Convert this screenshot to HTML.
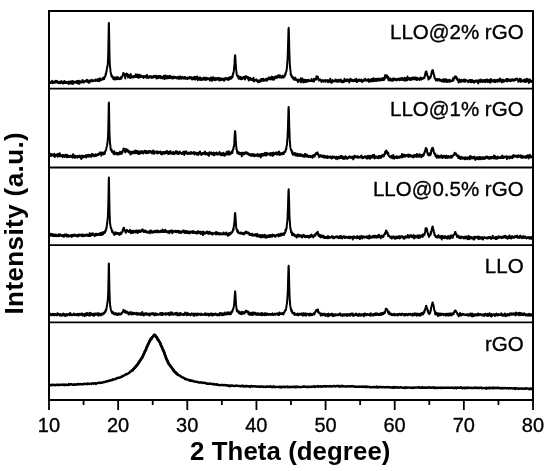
<!DOCTYPE html>
<html><head><meta charset="utf-8"><title>XRD patterns</title>
<style>html,body{margin:0;padding:0;background:#fff;overflow:hidden;}svg{display:block;}</style>
</head><body>
<svg width="550" height="471" viewBox="0 0 550 471">
<rect width="550" height="471" fill="#fff"/>
<g fill="none" stroke="#000" stroke-linejoin="round" stroke-linecap="round" stroke-width="2.00">
<path d="M50.00 82.1L50.25 83.1L50.50 83.0L50.75 81.7L51.00 81.8L51.25 81.7L51.50 82.5L51.75 82.0L52.00 82.6L52.25 80.7L52.50 83.3L52.75 82.0L53.00 82.6L53.25 82.0L53.50 81.8L53.75 82.5L54.00 82.8L54.25 82.0L54.50 82.0L54.75 82.7L55.00 81.5L55.25 81.0L55.50 82.5L55.75 81.7L56.00 80.8L56.25 81.6L56.50 81.9L56.75 81.3L57.00 81.1L57.25 82.3L57.50 82.9L57.75 82.1L58.00 81.7L58.25 82.5L58.50 82.8L58.75 82.0L59.00 82.7L59.25 83.1L59.50 82.1L59.75 81.7L60.00 82.6L60.25 82.5L60.50 83.1L60.75 81.4L61.00 81.8L61.25 81.7L61.50 81.1L61.75 82.5L62.00 82.8L62.25 81.8L62.50 83.4L62.75 83.0L63.00 82.9L63.25 82.7L63.50 83.1L63.75 81.4L64.00 82.9L64.25 82.9L64.50 81.1L64.75 82.7L65.00 82.3L65.25 83.0L65.50 82.1L65.75 82.5L66.00 82.7L66.25 81.8L66.50 82.9L66.75 82.4L67.00 82.9L67.25 82.1L67.50 83.3L67.75 83.0L68.00 82.4L68.25 83.0L68.50 83.5L68.75 83.9L69.00 81.4L69.25 83.2L69.50 82.9L69.75 82.5L70.00 81.8L70.25 83.5L70.50 81.6L70.75 83.0L71.00 83.5L71.25 81.3L71.50 82.3L71.75 81.5L72.00 82.6L72.25 83.6L72.50 83.9L72.75 81.0L73.00 81.9L73.25 82.9L73.50 83.5L73.75 82.6L74.00 81.7L74.25 82.5L74.50 82.2L74.75 82.1L75.00 81.7L75.25 82.5L75.50 82.4L75.75 82.1L76.00 82.0L76.25 81.2L76.50 81.7L76.75 83.0L77.00 81.9L77.25 81.0L77.50 83.0L77.75 82.4L78.00 83.6L78.25 82.0L78.50 81.6L78.75 80.8L79.00 82.9L79.25 83.8L79.50 81.3L79.75 81.4L80.00 82.3L80.25 81.2L80.50 81.6L80.75 81.5L81.00 81.9L81.25 82.6L81.50 81.7L81.75 82.4L82.00 81.4L82.25 81.9L82.50 80.0L82.75 80.5L83.00 82.2L83.25 81.1L83.50 82.0L83.75 81.9L84.00 82.5L84.25 82.1L84.50 82.2L84.75 81.4L85.00 80.9L85.25 80.9L85.50 81.0L85.75 80.5L86.00 81.0L86.25 81.3L86.50 81.5L86.75 81.1L87.00 79.8L87.25 81.2L87.50 81.4L87.75 82.0L88.00 81.6L88.25 80.7L88.50 80.6L88.75 82.7L89.00 81.7L89.25 82.5L89.50 82.7L89.75 80.5L90.00 81.3L90.25 81.4L90.50 81.4L90.75 81.4L91.00 81.1L91.25 81.1L91.50 79.8L91.75 80.7L92.00 80.3L92.25 80.9L92.50 80.4L92.75 81.2L93.00 81.3L93.25 80.9L93.50 80.9L93.75 80.7L94.00 80.2L94.25 80.4L94.50 80.1L94.75 80.8L95.00 80.4L95.25 80.8L95.50 79.4L95.75 81.0L96.00 79.7L96.25 79.7L96.50 80.1L96.75 79.8L97.00 80.4L97.25 79.7L97.50 79.3L97.75 79.4L98.00 81.0L98.25 80.0L98.50 79.1L98.75 79.9L99.00 78.7L99.25 81.2L99.50 78.6L99.75 80.1L100.00 80.1L100.25 78.6L100.50 79.8L100.75 80.3L101.00 79.8L101.25 79.6L101.50 80.0L101.75 79.3L102.00 79.4L102.25 78.9L102.50 79.4L102.75 78.1L103.00 79.2L103.25 78.1L103.50 77.5L103.75 78.4L104.00 79.1L104.25 78.3L104.50 76.9L104.75 77.5L105.00 76.3L105.25 76.1L105.50 75.7L105.75 73.3L106.00 74.4L106.25 72.5L106.50 71.6L106.75 69.7L107.00 68.1L107.25 66.8L107.50 66.1L107.75 64.3L108.00 59.3L108.25 53.3L108.50 40.1L108.75 25.8L108.88 23.0L109.00 26.2L109.25 41.8L109.50 55.7L109.75 63.5L110.00 66.5L110.25 68.5L110.50 71.2L110.75 72.5L111.00 73.3L111.25 75.1L111.50 76.3L111.75 75.2L112.00 76.5L112.25 77.1L112.50 77.3L112.75 77.8L113.00 77.0L113.25 78.0L113.50 79.2L113.75 78.4L114.00 77.5L114.25 78.5L114.50 79.1L114.75 78.5L115.00 77.8L115.25 79.5L115.50 77.4L115.75 78.8L116.00 78.4L116.25 77.5L116.50 79.3L116.75 78.7L117.00 77.6L117.25 78.9L117.50 78.1L117.75 77.0L118.00 77.9L118.25 78.6L118.50 78.9L118.75 78.6L119.00 78.5L119.25 78.8L119.50 78.3L119.75 79.3L120.00 78.5L120.25 78.5L120.50 78.5L120.75 77.2L121.00 77.3L121.25 78.8L121.50 77.7L121.75 77.1L122.00 77.3L122.25 76.3L122.50 76.4L122.75 75.1L123.00 75.0L123.25 72.9L123.50 73.5L123.67 73.3L123.75 73.3L124.00 73.5L124.25 73.9L124.50 74.9L124.75 74.4L125.00 75.9L125.25 78.4L125.50 74.8L125.75 76.0L126.00 75.3L126.25 75.4L126.50 73.6L126.75 73.8L127.00 74.4L127.13 74.3L127.25 74.4L127.50 74.1L127.75 75.1L128.00 77.4L128.25 74.9L128.50 75.0L128.75 75.8L129.00 75.9L129.25 76.6L129.50 76.1L129.75 75.5L130.00 76.2L130.25 78.1L130.50 77.1L130.75 74.0L131.00 76.0L131.25 75.5L131.50 76.6L131.75 76.1L132.00 77.6L132.25 76.9L132.50 76.9L132.75 76.4L133.00 76.2L133.25 76.5L133.50 77.2L133.75 76.6L134.00 76.0L134.25 77.2L134.50 76.4L134.75 76.2L135.00 75.7L135.25 75.8L135.50 75.8L135.75 74.2L136.00 77.1L136.25 76.7L136.50 76.2L136.75 77.1L137.00 76.7L137.25 76.6L137.50 74.5L137.75 76.2L138.00 76.8L138.25 77.6L138.50 77.8L138.75 77.5L139.00 75.5L139.25 74.8L139.50 76.9L139.75 76.5L140.00 77.2L140.25 76.4L140.50 76.6L140.75 75.3L141.00 76.8L141.25 76.2L141.50 76.8L141.75 76.9L142.00 76.4L142.25 76.8L142.50 76.5L142.75 77.1L143.00 76.9L143.25 76.1L143.50 76.1L143.75 77.9L144.00 76.5L144.25 77.3L144.50 76.9L144.75 76.2L145.00 76.1L145.25 76.7L145.50 76.8L145.75 77.1L146.00 75.7L146.25 76.2L146.50 76.6L146.75 77.9L147.00 74.9L147.25 77.0L147.50 76.3L147.75 77.0L148.00 76.4L148.25 77.0L148.50 77.9L148.75 77.0L149.00 77.1L149.25 77.0L149.50 76.2L149.75 77.2L150.00 76.6L150.25 76.2L150.50 76.8L150.75 76.6L151.00 77.4L151.25 76.8L151.50 76.4L151.75 77.9L152.00 77.6L152.25 77.8L152.50 77.3L152.75 76.8L153.00 76.6L153.25 76.7L153.50 77.6L153.75 77.0L154.00 75.8L154.25 76.9L154.50 75.9L154.75 77.1L155.00 76.0L155.25 76.0L155.50 77.0L155.75 76.9L156.00 75.7L156.25 77.5L156.50 78.6L156.75 75.9L157.00 78.4L157.25 76.5L157.50 76.6L157.75 76.9L158.00 76.0L158.25 78.0L158.50 77.4L158.75 76.5L159.00 76.9L159.25 75.9L159.50 76.8L159.75 77.8L160.00 75.8L160.25 76.8L160.50 77.2L160.75 77.9L161.00 78.1L161.25 76.8L161.50 76.6L161.75 77.5L162.00 76.9L162.25 76.9L162.50 78.0L162.75 78.4L163.00 77.4L163.25 77.1L163.50 77.6L163.75 75.8L164.00 77.2L164.25 76.4L164.50 79.0L164.75 77.8L165.00 77.4L165.25 77.1L165.50 75.4L165.75 77.8L166.00 78.5L166.25 76.7L166.50 77.8L166.75 77.8L167.00 76.1L167.25 78.0L167.50 78.3L167.75 77.5L168.00 77.3L168.25 77.9L168.50 76.2L168.75 77.4L169.00 78.2L169.25 76.4L169.50 78.1L169.75 77.1L170.00 75.8L170.25 77.3L170.50 76.7L170.75 77.7L171.00 76.6L171.25 78.2L171.50 76.9L171.75 77.7L172.00 77.0L172.25 77.2L172.50 78.4L172.75 77.6L173.00 77.2L173.25 76.6L173.50 78.4L173.75 78.1L174.00 77.3L174.25 77.7L174.50 76.8L174.75 76.8L175.00 77.0L175.25 77.8L175.50 77.8L175.75 77.0L176.00 78.2L176.25 78.2L176.50 77.8L176.75 78.4L177.00 77.4L177.25 77.6L177.50 78.0L177.75 77.7L178.00 78.3L178.25 76.8L178.50 78.8L178.75 77.1L179.00 77.6L179.25 76.7L179.50 78.2L179.75 78.7L180.00 78.6L180.25 78.4L180.50 76.6L180.75 77.2L181.00 77.5L181.25 77.1L181.50 78.7L181.75 78.0L182.00 77.8L182.25 78.2L182.50 77.1L182.75 77.2L183.00 77.2L183.25 78.3L183.50 78.2L183.75 78.3L184.00 78.7L184.25 76.9L184.50 77.5L184.75 78.1L185.00 76.9L185.25 77.6L185.50 78.7L185.75 78.8L186.00 78.8L186.25 78.0L186.50 77.9L186.75 78.8L187.00 77.8L187.25 78.3L187.50 79.0L187.75 77.8L188.00 77.6L188.25 78.1L188.50 78.5L188.75 78.5L189.00 78.2L189.25 78.5L189.50 76.9L189.75 77.5L190.00 78.3L190.25 77.5L190.50 77.2L190.75 77.3L191.00 77.5L191.25 78.1L191.50 77.4L191.75 78.4L192.00 79.5L192.25 78.1L192.50 79.2L192.75 78.5L193.00 77.4L193.25 78.1L193.50 77.5L193.75 78.9L194.00 77.4L194.25 79.3L194.50 78.8L194.75 76.8L195.00 78.9L195.25 79.5L195.50 77.8L195.75 79.1L196.00 77.0L196.25 78.6L196.50 77.2L196.75 78.8L197.00 77.1L197.25 76.5L197.50 78.7L197.75 80.2L198.00 78.0L198.25 79.1L198.50 78.6L198.75 78.2L199.00 79.0L199.25 79.7L199.50 77.6L199.75 78.9L200.00 78.8L200.25 77.5L200.50 79.8L200.75 80.0L201.00 77.9L201.25 79.9L201.50 78.6L201.75 78.5L202.00 79.7L202.25 78.8L202.50 78.9L202.75 79.8L203.00 79.6L203.25 79.3L203.50 77.6L203.75 77.5L204.00 79.5L204.25 78.0L204.50 78.8L204.75 77.9L205.00 78.6L205.25 77.8L205.50 80.0L205.75 78.0L206.00 78.7L206.25 78.6L206.50 79.7L206.75 77.7L207.00 78.8L207.25 78.7L207.50 79.2L207.75 79.2L208.00 78.5L208.25 79.0L208.50 78.6L208.75 79.2L209.00 78.8L209.25 78.4L209.50 78.9L209.75 79.2L210.00 80.6L210.25 78.6L210.50 79.2L210.75 80.0L211.00 77.4L211.25 77.7L211.50 78.1L211.75 78.9L212.00 80.8L212.25 79.3L212.50 79.9L212.75 78.8L213.00 77.2L213.25 77.3L213.50 79.8L213.75 79.2L214.00 78.1L214.25 79.9L214.50 77.9L214.75 79.9L215.00 80.2L215.25 78.5L215.50 78.3L215.75 79.8L216.00 78.3L216.25 79.8L216.50 78.3L216.75 79.8L217.00 79.2L217.25 78.8L217.50 78.5L217.75 79.3L218.00 77.7L218.25 78.9L218.50 78.8L218.75 79.6L219.00 78.2L219.25 80.4L219.50 78.8L219.75 78.2L220.00 80.1L220.25 80.3L220.50 78.9L220.75 78.4L221.00 79.0L221.25 78.5L221.50 78.8L221.75 80.1L222.00 79.3L222.25 79.1L222.50 79.2L222.75 78.9L223.00 79.6L223.25 79.6L223.50 78.6L223.75 79.0L224.00 80.7L224.25 79.2L224.50 78.7L224.75 80.4L225.00 78.8L225.25 78.0L225.50 79.3L225.75 78.1L226.00 78.4L226.25 79.0L226.50 78.7L226.75 78.2L227.00 78.3L227.25 78.2L227.50 79.5L227.75 78.1L228.00 78.2L228.25 80.1L228.50 78.1L228.75 79.6L229.00 79.5L229.25 78.3L229.50 77.3L229.75 78.6L230.00 78.7L230.25 78.8L230.50 78.0L230.75 78.8L231.00 78.7L231.25 76.7L231.50 78.4L231.75 77.2L232.00 76.3L232.25 76.1L232.50 77.3L232.75 76.0L233.00 73.2L233.25 73.8L233.50 72.6L233.75 71.2L234.00 69.1L234.25 65.8L234.50 63.9L234.75 58.3L235.00 55.6L235.13 55.2L235.25 55.8L235.50 60.2L235.75 64.7L236.00 67.8L236.25 70.4L236.50 72.7L236.75 75.0L237.00 75.2L237.25 75.9L237.50 76.0L237.75 76.4L238.00 77.0L238.25 75.7L238.50 78.5L238.75 76.9L239.00 77.2L239.25 78.8L239.50 78.1L239.75 78.0L240.00 77.6L240.25 76.9L240.50 78.3L240.75 79.1L241.00 77.6L241.25 79.3L241.50 77.5L241.75 77.8L242.00 78.8L242.25 78.4L242.50 78.9L242.75 77.9L243.00 77.7L243.25 77.0L243.50 77.5L243.75 77.5L244.00 77.2L244.25 78.4L244.50 77.6L244.75 76.4L245.00 79.5L245.25 76.8L245.50 76.2L245.75 77.8L246.00 77.5L246.25 76.5L246.40 76.5L246.50 76.6L246.75 77.6L247.00 76.7L247.25 76.7L247.50 77.6L247.75 78.8L248.00 77.1L248.25 78.1L248.50 77.6L248.75 80.4L249.00 80.3L249.25 79.7L249.50 79.0L249.75 79.7L250.00 77.7L250.25 79.5L250.50 78.3L250.75 78.4L251.00 78.9L251.25 79.2L251.50 80.0L251.75 80.1L252.00 79.8L252.25 78.9L252.50 80.2L252.75 79.6L253.00 80.6L253.25 79.1L253.50 77.8L253.75 79.5L254.00 81.5L254.25 80.3L254.50 79.8L254.75 80.7L255.00 80.4L255.25 80.4L255.50 79.7L255.75 80.2L256.00 80.3L256.25 79.7L256.50 79.4L256.75 80.4L257.00 81.0L257.25 80.8L257.50 80.7L257.75 80.8L258.00 82.3L258.25 80.6L258.50 81.2L258.75 82.0L259.00 80.6L259.25 80.8L259.50 81.4L259.75 81.9L260.00 80.9L260.25 80.9L260.50 80.6L260.75 79.6L261.00 81.3L261.25 80.2L261.50 79.0L261.75 80.2L262.00 78.9L262.25 79.4L262.50 80.1L262.75 79.4L263.00 80.8L263.25 78.8L263.50 80.1L263.75 80.3L264.00 80.9L264.25 80.4L264.50 79.8L264.75 79.7L265.00 79.5L265.25 80.4L265.50 79.0L265.75 79.8L266.00 79.3L266.25 79.5L266.50 79.0L266.75 80.8L267.00 78.6L267.25 79.3L267.50 79.2L267.75 79.4L268.00 79.2L268.25 79.2L268.50 79.5L268.75 77.6L269.00 78.7L269.25 77.7L269.50 78.7L269.75 77.6L270.00 77.7L270.25 78.4L270.50 79.4L270.75 78.7L271.00 78.5L271.25 79.3L271.50 77.5L271.75 76.6L272.00 77.8L272.25 77.8L272.50 78.9L272.75 79.5L273.00 76.9L273.25 79.7L273.50 79.0L273.75 78.4L274.00 78.0L274.25 79.5L274.50 77.6L274.75 77.2L275.00 77.6L275.25 76.4L275.50 77.7L275.75 77.3L276.00 77.5L276.25 77.5L276.50 76.4L276.75 78.1L277.00 76.3L277.25 77.7L277.50 75.8L277.75 77.2L278.00 76.3L278.25 76.9L278.50 76.4L278.75 75.3L279.00 76.1L279.25 77.0L279.50 77.5L279.75 75.9L280.00 75.4L280.25 76.4L280.50 76.9L280.75 76.6L281.00 76.4L281.25 77.7L281.50 77.7L281.75 77.6L282.00 76.3L282.25 77.0L282.50 76.7L282.75 75.7L283.00 77.4L283.25 76.7L283.50 76.1L283.75 77.4L284.00 76.7L284.25 76.6L284.50 76.6L284.75 75.9L285.00 74.0L285.25 74.2L285.50 74.6L285.75 72.6L286.00 72.2L286.25 71.4L286.50 70.8L286.75 69.0L287.00 66.7L287.25 63.2L287.50 60.4L287.75 54.9L288.00 46.9L288.25 38.5L288.50 29.3L288.65 27.8L288.75 29.0L289.00 37.4L289.25 48.9L289.50 56.0L289.75 63.3L290.00 66.6L290.25 69.2L290.50 70.4L290.75 74.7L291.00 74.1L291.25 75.2L291.50 76.5L291.75 76.2L292.00 77.2L292.25 76.2L292.50 77.8L292.75 77.7L293.00 78.6L293.25 78.7L293.50 77.7L293.75 77.6L294.00 78.4L294.25 79.8L294.50 79.7L294.75 79.8L295.00 78.1L295.25 77.7L295.50 79.4L295.75 79.7L296.00 79.5L296.25 80.3L296.50 80.0L296.75 79.3L297.00 79.6L297.25 80.4L297.50 80.5L297.75 80.4L298.00 82.2L298.25 80.3L298.50 80.6L298.75 79.8L299.00 80.3L299.25 81.0L299.50 81.0L299.75 80.5L300.00 80.9L300.25 80.7L300.50 79.2L300.75 78.2L301.00 82.4L301.25 81.3L301.50 80.6L301.75 79.3L302.00 79.7L302.25 81.7L302.50 78.6L302.75 80.4L303.00 81.3L303.25 80.8L303.50 81.3L303.75 80.6L304.00 82.5L304.25 79.9L304.50 79.7L304.75 80.9L305.00 81.8L305.25 80.7L305.50 81.5L305.75 80.3L306.00 79.8L306.25 81.8L306.50 81.9L306.75 81.9L307.00 80.4L307.25 79.9L307.50 79.9L307.75 80.6L308.00 81.2L308.25 81.1L308.50 79.7L308.75 80.9L309.00 80.7L309.25 80.8L309.50 80.7L309.75 80.6L310.00 81.2L310.25 80.8L310.50 80.9L310.75 80.2L311.00 81.0L311.25 80.6L311.50 79.1L311.75 81.0L312.00 80.4L312.25 81.3L312.50 80.5L312.75 80.5L313.00 80.7L313.25 80.5L313.50 80.1L313.75 79.0L314.00 81.6L314.25 78.9L314.50 79.6L314.75 80.1L315.00 79.7L315.25 79.5L315.50 79.2L315.75 79.2L316.00 78.0L316.25 79.5L316.50 76.2L316.75 76.7L317.00 76.6L317.00 76.6L317.25 76.7L317.50 78.1L317.75 76.8L318.00 77.3L318.25 78.8L318.50 79.1L318.75 80.6L319.00 80.2L319.25 79.9L319.50 79.7L319.75 80.3L320.00 80.2L320.25 79.4L320.50 80.5L320.75 80.5L321.00 80.5L321.25 80.4L321.50 82.0L321.75 81.3L322.00 81.5L322.25 80.4L322.50 80.1L322.75 80.7L323.00 81.1L323.25 80.7L323.50 80.8L323.75 81.7L324.00 81.2L324.25 80.2L324.50 80.7L324.75 80.5L325.00 81.1L325.25 80.1L325.50 80.9L325.75 81.6L326.00 81.1L326.25 80.4L326.50 80.6L326.75 81.2L327.00 81.4L327.25 81.7L327.50 81.0L327.75 80.1L328.00 82.2L328.25 81.3L328.50 81.4L328.75 81.3L329.00 80.3L329.25 80.9L329.50 81.3L329.75 81.9L330.00 81.2L330.25 78.8L330.50 81.0L330.75 81.4L331.00 82.1L331.25 81.7L331.50 83.0L331.75 82.2L332.00 82.1L332.25 81.8L332.50 80.1L332.75 81.7L333.00 81.5L333.25 80.7L333.50 81.5L333.75 81.4L334.00 80.7L334.25 81.0L334.50 80.8L334.75 81.2L335.00 80.7L335.25 81.4L335.50 79.6L335.75 80.8L336.00 79.7L336.25 80.6L336.50 81.4L336.75 81.0L337.00 80.9L337.25 81.0L337.50 82.1L337.75 80.1L338.00 81.6L338.25 79.8L338.50 80.6L338.75 81.1L339.00 80.3L339.25 81.1L339.50 81.5L339.75 80.0L340.00 80.8L340.25 80.6L340.50 79.4L340.75 80.7L341.00 80.3L341.25 81.9L341.50 80.2L341.75 82.1L342.00 80.4L342.25 82.3L342.50 81.2L342.75 81.2L343.00 81.4L343.25 81.5L343.50 81.9L343.75 82.1L344.00 80.5L344.25 79.8L344.50 78.8L344.75 80.5L345.00 81.3L345.25 81.0L345.50 80.8L345.75 80.5L346.00 80.3L346.25 80.5L346.50 81.0L346.75 79.4L347.00 81.3L347.25 79.6L347.50 80.6L347.75 80.2L348.00 80.4L348.25 79.9L348.50 79.8L348.75 80.5L349.00 79.8L349.25 82.5L349.50 80.3L349.75 80.2L350.00 80.2L350.25 79.8L350.50 78.8L350.75 80.4L351.00 80.9L351.25 79.5L351.50 80.6L351.75 79.7L352.00 80.6L352.25 80.9L352.50 81.0L352.75 80.9L353.00 80.1L353.25 81.2L353.50 80.2L353.75 80.8L354.00 81.1L354.25 80.3L354.50 79.6L354.75 81.0L355.00 79.7L355.25 79.9L355.50 79.7L355.75 81.2L356.00 80.4L356.25 78.8L356.50 81.1L356.75 82.1L357.00 81.9L357.25 80.1L357.50 80.5L357.75 80.9L358.00 81.2L358.25 80.5L358.50 79.7L358.75 81.0L359.00 80.9L359.25 79.5L359.50 80.2L359.75 80.6L360.00 80.4L360.25 80.8L360.50 81.0L360.75 80.8L361.00 80.3L361.25 79.4L361.50 80.9L361.75 81.5L362.00 81.9L362.25 80.4L362.50 80.4L362.75 81.5L363.00 81.5L363.25 80.6L363.50 80.9L363.75 79.8L364.00 80.8L364.25 79.7L364.50 80.2L364.75 80.3L365.00 80.0L365.25 78.8L365.50 79.7L365.75 80.6L366.00 80.3L366.25 80.0L366.50 80.6L366.75 80.8L367.00 80.9L367.25 79.7L367.50 80.3L367.75 80.0L368.00 79.6L368.25 79.1L368.50 80.2L368.75 79.6L369.00 81.9L369.25 80.2L369.50 80.1L369.75 79.9L370.00 81.6L370.25 79.5L370.50 80.1L370.75 79.6L371.00 80.1L371.25 80.2L371.50 81.0L371.75 79.1L372.00 80.2L372.25 81.4L372.50 79.8L372.75 80.0L373.00 79.5L373.25 78.2L373.50 80.1L373.75 81.0L374.00 79.8L374.25 78.7L374.50 80.3L374.75 80.2L375.00 80.9L375.25 80.8L375.50 79.9L375.75 80.4L376.00 78.7L376.25 80.9L376.50 80.2L376.75 80.9L377.00 80.8L377.25 79.8L377.50 79.9L377.75 79.4L378.00 78.5L378.25 79.9L378.50 80.1L378.75 79.2L379.00 80.5L379.25 80.0L379.50 80.3L379.75 79.4L380.00 78.6L380.25 80.5L380.50 80.3L380.75 79.8L381.00 79.5L381.25 79.6L381.50 79.7L381.75 79.4L382.00 78.2L382.25 80.3L382.50 78.5L382.75 79.3L383.00 79.3L383.25 79.6L383.50 78.1L383.75 80.1L384.00 79.5L384.25 79.3L384.50 79.4L384.75 77.5L385.00 75.3L385.25 77.5L385.50 77.7L385.75 77.1L386.00 75.4L386.25 75.5L386.42 75.5L386.50 75.5L386.75 75.2L387.00 75.6L387.25 77.7L387.50 76.5L387.75 78.7L388.00 77.9L388.25 77.0L388.50 80.2L388.75 78.1L389.00 79.5L389.25 80.5L389.50 78.9L389.75 78.5L390.00 80.2L390.25 79.5L390.50 78.6L390.75 78.8L391.00 79.3L391.25 80.3L391.50 79.4L391.75 80.1L392.00 80.9L392.25 80.6L392.50 80.8L392.75 80.6L393.00 78.5L393.25 80.6L393.50 79.9L393.75 79.6L394.00 78.9L394.25 78.5L394.50 78.9L394.75 79.7L395.00 78.8L395.25 79.1L395.50 79.2L395.75 80.2L396.00 79.4L396.25 79.5L396.50 80.6L396.75 79.4L397.00 80.0L397.25 78.8L397.50 79.8L397.75 79.6L398.00 79.6L398.25 79.1L398.50 78.7L398.75 79.2L399.00 79.1L399.25 80.2L399.50 80.1L399.75 78.5L400.00 79.8L400.25 79.0L400.50 79.7L400.75 79.0L401.00 78.2L401.25 80.1L401.50 79.6L401.75 78.3L402.00 77.8L402.25 78.8L402.50 78.3L402.75 78.9L403.00 79.6L403.25 80.3L403.50 78.9L403.75 80.1L404.00 80.0L404.25 78.8L404.50 77.8L404.75 79.7L405.00 79.5L405.25 80.8L405.50 80.1L405.75 79.6L406.00 80.2L406.25 78.1L406.50 79.1L406.75 78.7L407.00 80.2L407.25 79.3L407.50 76.5L407.75 79.9L408.00 78.1L408.25 79.4L408.50 78.4L408.75 78.9L409.00 79.2L409.25 78.9L409.50 78.0L409.75 79.7L410.00 79.0L410.25 78.6L410.50 79.1L410.75 78.2L411.00 80.0L411.25 78.7L411.50 78.8L411.75 78.8L412.00 77.8L412.25 77.6L412.50 78.6L412.75 78.7L413.00 79.4L413.25 78.8L413.50 77.6L413.75 78.9L414.00 79.1L414.25 79.3L414.50 78.8L414.75 77.6L415.00 79.4L415.25 78.0L415.50 79.0L415.75 77.4L416.00 79.2L416.25 78.0L416.50 79.5L416.75 80.0L417.00 79.5L417.25 77.8L417.50 78.0L417.75 78.1L418.00 79.2L418.25 79.0L418.50 78.9L418.75 79.0L419.00 79.2L419.25 79.2L419.50 80.0L419.75 78.7L420.00 78.9L420.25 77.4L420.50 77.8L420.75 78.2L421.00 77.9L421.25 78.9L421.50 79.5L421.75 78.4L422.00 78.3L422.25 78.2L422.50 78.7L422.75 78.1L423.00 78.7L423.25 78.5L423.50 78.3L423.75 78.4L424.00 77.5L424.25 77.1L424.50 77.8L424.75 75.7L425.00 75.5L425.25 74.0L425.50 72.7L425.75 71.9L426.00 71.7L426.17 71.5L426.25 71.6L426.50 71.6L426.75 73.6L427.00 73.5L427.25 75.4L427.50 75.6L427.75 76.8L428.00 76.3L428.25 77.4L428.50 79.6L428.75 78.5L429.00 78.7L429.25 78.2L429.50 78.7L429.75 77.1L430.00 77.2L430.25 77.9L430.50 77.7L430.75 76.3L431.00 75.7L431.25 74.7L431.50 73.8L431.75 71.9L432.00 70.7L432.25 70.7L432.50 70.3L432.60 70.3L432.75 70.4L433.00 70.3L433.25 72.3L433.50 72.9L433.75 74.4L434.00 74.8L434.25 75.9L434.50 77.6L434.75 78.1L435.00 78.0L435.25 79.0L435.50 79.1L435.75 79.3L436.00 80.5L436.25 79.2L436.50 79.9L436.75 80.0L437.00 79.6L437.25 79.0L437.50 80.4L437.75 80.2L438.00 80.0L438.25 80.1L438.50 80.1L438.75 79.5L439.00 80.4L439.25 78.9L439.50 80.2L439.75 79.2L440.00 80.1L440.25 80.9L440.50 80.2L440.75 80.1L441.00 80.8L441.25 80.3L441.50 80.2L441.75 80.2L442.00 81.6L442.25 81.0L442.50 80.9L442.75 79.6L443.00 81.0L443.25 79.6L443.50 80.9L443.75 79.7L444.00 82.0L444.25 79.3L444.50 81.5L444.75 81.2L445.00 79.2L445.25 80.4L445.50 81.6L445.75 81.4L446.00 79.3L446.25 80.2L446.50 79.7L446.75 79.8L447.00 80.1L447.25 82.0L447.50 80.7L447.75 80.4L448.00 80.3L448.25 81.1L448.50 81.1L448.75 79.9L449.00 81.7L449.25 79.7L449.50 80.3L449.75 80.9L450.00 81.8L450.25 80.2L450.50 80.7L450.75 81.4L451.00 80.9L451.25 81.3L451.50 81.1L451.75 80.5L452.00 80.7L452.25 80.8L452.50 80.0L452.75 81.1L453.00 78.2L453.25 78.8L453.50 80.2L453.75 79.1L454.00 77.9L454.25 78.2L454.50 78.2L454.75 76.6L455.00 76.7L455.25 76.6L455.28 76.6L455.50 76.7L455.75 77.7L456.00 76.5L456.25 77.5L456.50 78.8L456.75 77.8L457.00 77.9L457.25 79.9L457.50 79.7L457.75 79.8L458.00 80.2L458.25 79.5L458.50 82.5L458.75 79.7L459.00 80.1L459.25 79.5L459.50 80.3L459.75 81.7L460.00 80.6L460.25 81.1L460.50 80.3L460.75 82.1L461.00 80.8L461.25 79.8L461.50 81.3L461.75 80.5L462.00 81.2L462.25 80.9L462.50 81.0L462.75 80.9L463.00 80.1L463.25 79.7L463.50 81.6L463.75 80.7L464.00 81.1L464.25 80.5L464.50 79.4L464.75 79.9L465.00 81.9L465.25 80.3L465.50 80.6L465.75 79.8L466.00 80.5L466.25 80.6L466.50 80.7L466.75 80.9L467.00 80.5L467.25 80.5L467.50 80.9L467.75 81.2L468.00 80.8L468.25 82.3L468.50 81.1L468.75 81.1L469.00 80.5L469.25 81.7L469.50 80.2L469.75 79.8L470.00 80.2L470.25 81.4L470.50 80.1L470.75 82.0L471.00 81.0L471.25 79.9L471.50 80.8L471.75 82.3L472.00 80.4L472.25 80.0L472.50 81.4L472.75 82.0L473.00 81.8L473.25 80.8L473.50 81.2L473.75 81.3L474.00 81.9L474.25 82.7L474.50 81.0L474.75 82.0L475.00 80.8L475.25 81.5L475.50 80.4L475.75 80.5L476.00 81.4L476.25 80.4L476.50 81.7L476.75 80.7L477.00 81.1L477.25 81.0L477.50 80.8L477.75 81.2L478.00 81.9L478.25 83.4L478.50 80.2L478.75 81.3L479.00 81.0L479.25 80.4L479.50 81.3L479.75 80.5L480.00 81.1L480.25 82.1L480.50 79.6L480.75 81.3L481.00 81.4L481.25 80.4L481.50 81.5L481.75 81.4L482.00 80.8L482.25 82.0L482.50 80.1L482.75 81.5L483.00 80.9L483.25 80.3L483.50 80.9L483.75 80.8L484.00 81.7L484.25 79.9L484.50 80.9L484.75 80.7L485.00 82.2L485.25 80.2L485.50 81.8L485.75 79.7L486.00 81.2L486.25 80.9L486.50 81.3L486.75 80.4L487.00 79.5L487.25 79.8L487.50 81.9L487.75 81.1L488.00 80.3L488.25 81.6L488.50 80.4L488.75 80.4L489.00 80.0L489.25 81.8L489.50 82.4L489.75 80.2L490.00 81.1L490.25 81.6L490.50 82.5L490.75 79.1L491.00 81.0L491.25 81.3L491.50 79.7L491.75 81.2L492.00 81.0L492.25 81.4L492.50 80.4L492.75 81.1L493.00 80.4L493.25 81.3L493.50 80.9L493.75 80.5L494.00 79.7L494.25 82.0L494.50 81.6L494.75 81.4L495.00 80.3L495.25 80.5L495.50 82.0L495.75 81.3L496.00 80.1L496.25 80.8L496.50 80.8L496.75 80.6L497.00 80.0L497.25 81.7L497.50 81.2L497.75 80.6L498.00 79.5L498.25 80.3L498.50 80.7L498.75 81.3L499.00 80.4L499.25 81.5L499.50 80.8L499.75 80.1L500.00 78.6L500.25 79.8L500.50 79.5L500.75 80.5L501.00 80.9L501.25 81.7L501.50 80.6L501.75 79.8L502.00 82.4L502.25 80.8L502.50 80.4L502.75 80.4L503.00 79.6L503.25 81.1L503.50 80.9L503.75 81.8L504.00 81.4L504.25 81.2L504.50 81.5L504.75 80.4L505.00 80.2L505.25 80.5L505.50 79.6L505.75 80.4L506.00 80.3L506.25 81.0L506.50 80.5L506.75 79.1L507.00 80.5L507.25 81.6L507.50 79.1L507.75 79.9L508.00 80.5L508.25 79.5L508.50 80.1L508.75 80.5L509.00 79.5L509.25 80.7L509.50 80.8L509.75 79.5L510.00 80.5L510.25 81.2L510.50 80.2L510.75 80.6L511.00 80.7L511.25 80.0L511.50 80.9L511.75 80.4L512.00 79.3L512.25 80.4L512.50 80.6L512.75 80.5L513.00 79.4L513.25 80.2L513.50 80.8L513.75 79.9L514.00 80.6L514.25 80.6L514.50 79.5L514.75 80.0L515.00 79.3L515.25 80.2L515.50 79.3L515.75 78.9L516.00 79.3L516.25 79.3L516.50 79.7L516.75 79.8L517.00 78.6L517.25 79.0L517.50 79.8L517.75 80.0L518.00 79.7L518.25 81.7L518.50 80.6L518.75 79.8L519.00 80.4L519.25 80.9L519.50 80.3L519.75 78.7L520.00 80.2L520.25 80.2L520.50 81.8L520.75 78.9L521.00 81.5L521.25 80.2L521.50 81.1L521.75 80.2L522.00 80.6L522.25 81.4L522.50 80.6L522.75 81.3L523.00 80.5L523.25 80.3L523.50 80.4L523.75 80.2L524.00 80.5L524.25 81.7L524.50 79.8L524.75 79.4L525.00 80.7L525.25 82.0L525.50 81.5L525.75 81.7L526.00 81.7L526.25 80.2L526.50 80.9L526.75 78.8L527.00 80.4L527.25 81.3L527.50 79.7L527.75 79.3L528.00 79.9L528.25 81.1L528.50 81.8L528.75 82.9L529.00 82.0L529.25 79.8L529.50 79.3L529.75 81.1L530.00 81.8L530.25 79.8L530.50 80.7L530.75 80.7L531.00 81.1L531.25 81.0L531.50 81.5L531.75 81.9L532.00 81.2L532.25 81.8"/>
<path d="M50.00 156.0L50.25 153.8L50.50 153.8L50.75 155.0L51.00 156.0L51.25 154.8L51.50 155.5L51.75 154.5L52.00 155.4L52.25 154.3L52.50 155.3L52.75 155.1L53.00 155.1L53.25 155.9L53.50 155.7L53.75 154.4L54.00 155.6L54.25 153.7L54.50 155.7L54.75 157.0L55.00 155.4L55.25 155.4L55.50 155.1L55.75 155.7L56.00 154.8L56.25 155.6L56.50 154.9L56.75 154.9L57.00 155.3L57.25 155.2L57.50 153.9L57.75 156.8L58.00 155.4L58.25 154.0L58.50 156.1L58.75 155.3L59.00 155.5L59.25 155.9L59.50 154.8L59.75 153.2L60.00 155.4L60.25 155.7L60.50 156.3L60.75 155.0L61.00 155.4L61.25 155.9L61.50 155.4L61.75 155.4L62.00 155.8L62.25 154.9L62.50 156.9L62.75 155.0L63.00 155.8L63.25 155.5L63.50 155.2L63.75 156.2L64.00 156.6L64.25 156.9L64.50 156.3L64.75 155.6L65.00 156.6L65.25 154.8L65.50 156.0L65.75 156.4L66.00 156.4L66.25 155.2L66.50 154.9L66.75 157.3L67.00 155.7L67.25 154.9L67.50 155.2L67.75 156.2L68.00 157.0L68.25 156.2L68.50 157.1L68.75 156.4L69.00 156.6L69.25 157.0L69.50 156.0L69.75 156.5L70.00 156.0L70.25 155.9L70.50 156.9L70.75 155.8L71.00 156.4L71.25 155.8L71.50 156.3L71.75 156.0L72.00 157.3L72.25 156.5L72.50 156.5L72.75 157.7L73.00 154.3L73.25 155.7L73.50 154.5L73.75 156.5L74.00 156.9L74.25 157.0L74.50 156.8L74.75 155.9L75.00 157.9L75.25 156.8L75.50 156.4L75.75 155.8L76.00 157.0L76.25 156.3L76.50 156.3L76.75 156.9L77.00 156.9L77.25 156.1L77.50 157.7L77.75 156.0L78.00 155.9L78.25 157.0L78.50 156.9L78.75 156.9L79.00 156.5L79.25 156.9L79.50 156.4L79.75 155.6L80.00 157.4L80.25 156.1L80.50 156.7L80.75 157.5L81.00 157.0L81.25 159.0L81.50 155.8L81.75 156.3L82.00 156.9L82.25 157.8L82.50 156.6L82.75 155.6L83.00 157.5L83.25 155.9L83.50 156.5L83.75 157.2L84.00 156.0L84.25 156.2L84.50 156.8L84.75 156.3L85.00 156.6L85.25 155.7L85.50 156.2L85.75 155.5L86.00 155.1L86.25 157.6L86.50 156.5L86.75 156.9L87.00 155.4L87.25 156.1L87.50 155.9L87.75 155.0L88.00 156.4L88.25 155.4L88.50 155.8L88.75 154.8L89.00 156.6L89.25 156.4L89.50 156.1L89.75 155.1L90.00 155.3L90.25 156.6L90.50 155.5L90.75 155.8L91.00 155.7L91.25 154.7L91.50 156.7L91.75 154.0L92.00 155.6L92.25 155.3L92.50 154.2L92.75 155.6L93.00 155.7L93.25 155.3L93.50 154.6L93.75 155.5L94.00 155.9L94.25 155.2L94.50 156.3L94.75 155.6L95.00 155.5L95.25 155.9L95.50 154.3L95.75 154.4L96.00 155.1L96.25 155.1L96.50 155.8L96.75 155.5L97.00 154.7L97.25 154.7L97.50 154.3L97.75 154.2L98.00 154.1L98.25 155.0L98.50 154.0L98.75 154.0L99.00 154.3L99.25 153.8L99.50 153.9L99.75 152.4L100.00 154.3L100.25 153.8L100.50 154.1L100.75 154.2L101.00 152.6L101.25 155.7L101.50 154.0L101.75 154.0L102.00 152.5L102.25 154.2L102.50 154.0L102.75 153.4L103.00 153.7L103.25 154.4L103.50 153.1L103.75 152.5L104.00 154.0L104.25 153.0L104.50 152.4L104.75 154.0L105.00 152.0L105.25 151.4L105.50 151.2L105.75 150.1L106.00 149.9L106.25 149.0L106.50 147.3L106.75 146.4L107.00 145.4L107.25 143.8L107.50 142.1L107.75 140.0L108.00 136.2L108.25 130.2L108.50 118.3L108.75 105.2L108.88 102.6L109.00 105.6L109.25 120.5L109.50 134.9L109.75 138.1L110.00 144.4L110.25 144.2L110.50 147.4L110.75 149.5L111.00 150.3L111.25 149.2L111.50 149.5L111.75 149.9L112.00 151.9L112.25 151.4L112.50 152.0L112.75 152.5L113.00 152.8L113.25 153.1L113.50 153.0L113.75 151.8L114.00 154.2L114.25 151.2L114.50 154.2L114.75 152.9L115.00 153.3L115.25 153.1L115.50 153.2L115.75 153.5L116.00 153.3L116.25 152.7L116.50 154.2L116.75 153.1L117.00 154.6L117.25 153.5L117.50 153.0L117.75 153.9L118.00 154.2L118.25 152.9L118.50 153.4L118.75 154.6L119.00 152.8L119.25 152.9L119.50 153.7L119.75 152.6L120.00 151.7L120.25 152.2L120.50 153.8L120.75 153.9L121.00 153.9L121.25 153.5L121.50 152.1L121.75 153.3L122.00 153.4L122.25 151.6L122.50 152.3L122.75 150.7L123.00 150.3L123.25 149.6L123.50 148.6L123.67 148.5L123.75 148.5L124.00 148.8L124.25 149.2L124.50 150.6L124.75 151.1L125.00 151.2L125.25 152.4L125.50 151.6L125.75 151.1L126.00 149.0L126.25 150.7L126.50 150.3L126.75 149.4L127.00 149.8L127.13 149.7L127.25 149.8L127.50 151.5L127.75 151.4L128.00 150.5L128.25 151.6L128.50 150.6L128.75 152.4L129.00 152.2L129.25 151.5L129.50 152.0L129.75 151.9L130.00 151.6L130.25 153.1L130.50 154.5L130.75 152.8L131.00 153.0L131.25 152.3L131.50 151.9L131.75 153.8L132.00 151.9L132.25 152.5L132.50 152.1L132.75 152.6L133.00 152.1L133.25 152.6L133.50 151.2L133.75 152.1L134.00 153.2L134.25 151.4L134.50 151.7L134.75 153.2L135.00 152.5L135.25 153.0L135.50 150.5L135.75 152.3L136.00 151.2L136.25 151.1L136.50 152.5L136.75 153.1L137.00 151.0L137.25 151.3L137.50 151.7L137.75 152.1L138.00 151.2L138.25 153.9L138.50 152.6L138.75 151.9L139.00 151.8L139.25 153.9L139.50 153.9L139.75 151.8L140.00 152.4L140.25 153.1L140.50 151.3L140.75 151.7L141.00 153.2L141.25 151.7L141.50 151.8L141.75 151.2L142.00 151.6L142.25 152.7L142.50 151.5L142.75 151.2L143.00 151.7L143.25 153.5L143.50 152.3L143.75 151.7L144.00 152.3L144.25 152.5L144.50 152.3L144.75 150.8L145.00 152.4L145.25 152.0L145.50 152.8L145.75 151.1L146.00 153.0L146.25 151.8L146.50 150.9L146.75 153.2L147.00 151.8L147.25 152.4L147.50 152.0L147.75 153.0L148.00 153.0L148.25 153.0L148.50 152.7L148.75 150.9L149.00 150.9L149.25 152.3L149.50 151.4L149.75 152.5L150.00 152.3L150.25 151.1L150.50 151.4L150.75 151.3L151.00 151.5L151.25 152.0L151.50 152.7L151.75 153.2L152.00 151.5L152.25 151.8L152.50 153.4L152.75 152.9L153.00 152.4L153.25 150.5L153.50 151.5L153.75 152.4L154.00 151.8L154.25 153.8L154.50 152.3L154.75 152.5L155.00 151.5L155.25 151.5L155.50 151.8L155.75 151.8L156.00 152.1L156.25 152.6L156.50 152.5L156.75 153.1L157.00 151.3L157.25 152.5L157.50 152.6L157.75 153.6L158.00 152.2L158.25 152.7L158.50 151.8L158.75 152.8L159.00 152.8L159.25 152.0L159.50 152.1L159.75 152.5L160.00 152.9L160.25 151.6L160.50 153.2L160.75 152.3L161.00 154.0L161.25 153.7L161.50 152.3L161.75 152.1L162.00 154.5L162.25 153.1L162.50 153.1L162.75 152.3L163.00 152.6L163.25 153.3L163.50 153.2L163.75 152.1L164.00 153.7L164.25 153.0L164.50 152.0L164.75 153.5L165.00 152.6L165.25 153.4L165.50 152.4L165.75 153.1L166.00 151.6L166.25 153.1L166.50 151.7L166.75 153.0L167.00 151.0L167.25 152.8L167.50 153.5L167.75 153.3L168.00 153.8L168.25 152.1L168.50 154.1L168.75 154.1L169.00 152.0L169.25 152.3L169.50 152.5L169.75 152.9L170.00 153.1L170.25 151.1L170.50 153.4L170.75 152.7L171.00 152.2L171.25 153.6L171.50 152.7L171.75 153.8L172.00 153.3L172.25 152.7L172.50 153.8L172.75 153.5L173.00 152.5L173.25 151.7L173.50 152.5L173.75 153.4L174.00 152.7L174.25 154.3L174.50 153.1L174.75 153.1L175.00 153.2L175.25 152.3L175.50 152.8L175.75 152.4L176.00 151.1L176.25 151.6L176.50 153.5L176.75 152.6L177.00 152.8L177.25 151.8L177.50 152.5L177.75 153.5L178.00 153.0L178.25 152.5L178.50 154.1L178.75 152.9L179.00 152.7L179.25 153.8L179.50 151.6L179.75 153.3L180.00 152.1L180.25 152.3L180.50 152.4L180.75 153.0L181.00 153.0L181.25 153.1L181.50 153.1L181.75 154.0L182.00 154.2L182.25 153.5L182.50 153.5L182.75 152.6L183.00 152.1L183.25 153.4L183.50 152.9L183.75 153.6L184.00 151.5L184.25 154.9L184.50 152.0L184.75 152.9L185.00 153.7L185.25 151.9L185.50 152.5L185.75 151.4L186.00 151.8L186.25 151.4L186.50 153.0L186.75 153.1L187.00 152.7L187.25 153.9L187.50 154.0L187.75 152.9L188.00 152.7L188.25 152.7L188.50 152.6L188.75 153.9L189.00 153.1L189.25 152.7L189.50 152.7L189.75 153.3L190.00 152.6L190.25 153.2L190.50 152.9L190.75 154.0L191.00 153.8L191.25 151.9L191.50 152.9L191.75 153.5L192.00 152.7L192.25 153.6L192.50 153.3L192.75 153.5L193.00 153.0L193.25 153.3L193.50 153.5L193.75 152.0L194.00 152.4L194.25 152.3L194.50 154.4L194.75 153.3L195.00 153.4L195.25 153.3L195.50 152.7L195.75 152.6L196.00 153.8L196.25 152.9L196.50 154.4L196.75 153.3L197.00 153.3L197.25 153.0L197.50 153.2L197.75 153.3L198.00 154.4L198.25 155.0L198.50 152.4L198.75 153.5L199.00 153.8L199.25 152.6L199.50 152.8L199.75 153.0L200.00 151.5L200.25 153.8L200.50 153.3L200.75 153.3L201.00 153.4L201.25 153.6L201.50 155.1L201.75 153.5L202.00 154.0L202.25 153.0L202.50 153.7L202.75 153.2L203.00 153.3L203.25 152.8L203.50 152.9L203.75 153.8L204.00 154.0L204.25 153.8L204.50 153.0L204.75 153.8L205.00 151.6L205.25 154.2L205.50 153.5L205.75 153.8L206.00 154.4L206.25 153.3L206.50 154.3L206.75 153.3L207.00 154.0L207.25 153.3L207.50 153.9L207.75 154.7L208.00 153.2L208.25 153.2L208.50 153.4L208.75 153.9L209.00 155.8L209.25 153.3L209.50 152.2L209.75 153.2L210.00 152.5L210.25 153.3L210.50 153.8L210.75 153.0L211.00 153.3L211.25 152.4L211.50 153.9L211.75 153.2L212.00 154.6L212.25 154.6L212.50 153.2L212.75 153.5L213.00 153.9L213.25 154.4L213.50 152.6L213.75 153.8L214.00 155.2L214.25 153.8L214.50 154.0L214.75 153.8L215.00 152.9L215.25 154.6L215.50 154.0L215.75 154.0L216.00 154.4L216.25 154.4L216.50 152.4L216.75 154.2L217.00 153.4L217.25 154.0L217.50 153.3L217.75 153.2L218.00 154.6L218.25 153.9L218.50 153.7L218.75 153.6L219.00 153.9L219.25 153.9L219.50 152.1L219.75 153.2L220.00 153.7L220.25 154.4L220.50 154.9L220.75 153.2L221.00 155.3L221.25 154.0L221.50 154.3L221.75 153.5L222.00 153.4L222.25 155.0L222.50 153.7L222.75 153.8L223.00 154.8L223.25 155.2L223.50 152.8L223.75 153.8L224.00 153.9L224.25 155.3L224.50 155.8L224.75 153.9L225.00 154.2L225.25 154.5L225.50 154.8L225.75 153.7L226.00 154.5L226.25 153.4L226.50 151.9L226.75 152.8L227.00 154.0L227.25 154.5L227.50 152.2L227.75 152.5L228.00 153.8L228.25 151.3L228.50 154.2L228.75 154.5L229.00 151.5L229.25 154.3L229.50 153.5L229.75 154.6L230.00 153.7L230.25 153.2L230.50 153.4L230.75 153.9L231.00 153.2L231.25 152.9L231.50 151.6L231.75 152.7L232.00 152.1L232.25 153.1L232.50 151.2L232.75 150.6L233.00 149.5L233.25 149.7L233.50 148.0L233.75 146.3L234.00 146.3L234.25 143.9L234.50 138.7L234.75 134.2L235.00 131.5L235.13 131.1L235.25 131.7L235.50 135.4L235.75 140.9L236.00 143.0L236.25 146.7L236.50 149.4L236.75 150.1L237.00 150.2L237.25 153.0L237.50 152.2L237.75 151.8L238.00 151.8L238.25 152.3L238.50 153.7L238.75 152.3L239.00 153.1L239.25 152.6L239.50 154.2L239.75 153.2L240.00 154.1L240.25 153.9L240.50 153.1L240.75 154.1L241.00 154.3L241.25 152.8L241.50 154.2L241.75 156.3L242.00 153.4L242.25 154.2L242.50 152.7L242.75 154.1L243.00 153.3L243.25 154.3L243.50 153.7L243.75 152.8L244.00 154.5L244.25 153.4L244.50 152.7L244.75 153.4L245.00 152.5L245.25 153.4L245.50 152.8L245.75 152.4L246.00 153.0L246.25 152.3L246.40 152.3L246.50 152.4L246.75 153.8L247.00 152.9L247.25 152.8L247.50 152.7L247.75 153.9L248.00 153.6L248.25 153.7L248.50 154.8L248.75 153.8L249.00 154.0L249.25 154.6L249.50 155.2L249.75 154.3L250.00 154.6L250.25 154.5L250.50 155.1L250.75 155.7L251.00 153.9L251.25 154.6L251.50 154.7L251.75 155.2L252.00 155.9L252.25 154.8L252.50 155.0L252.75 155.7L253.00 153.9L253.25 154.3L253.50 154.6L253.75 154.9L254.00 155.1L254.25 154.6L254.50 156.3L254.75 154.5L255.00 154.9L255.25 155.9L255.50 155.7L255.75 155.1L256.00 155.4L256.25 155.8L256.50 155.2L256.75 155.7L257.00 154.6L257.25 155.3L257.50 154.0L257.75 154.6L258.00 154.5L258.25 156.3L258.50 155.0L258.75 155.6L259.00 154.7L259.25 155.3L259.50 155.3L259.75 154.8L260.00 156.2L260.25 154.2L260.50 155.9L260.75 157.4L261.00 154.8L261.25 155.4L261.50 154.1L261.75 155.2L262.00 153.9L262.25 155.7L262.50 154.8L262.75 153.7L263.00 154.1L263.25 153.8L263.50 154.8L263.75 155.6L264.00 154.6L264.25 154.0L264.50 154.2L264.75 154.9L265.00 152.9L265.25 155.2L265.50 155.0L265.75 152.8L266.00 155.5L266.25 153.3L266.50 154.4L266.75 155.4L267.00 153.2L267.25 153.0L267.50 153.5L267.75 153.5L268.00 154.2L268.25 153.9L268.50 153.9L268.75 153.9L269.00 154.0L269.25 153.5L269.50 154.4L269.75 154.1L270.00 153.3L270.25 155.4L270.50 153.0L270.75 154.5L271.00 153.3L271.25 154.1L271.50 154.2L271.75 154.5L272.00 154.8L272.25 153.1L272.50 155.9L272.75 154.0L273.00 153.0L273.25 152.5L273.50 155.3L273.75 154.8L274.00 153.5L274.25 154.0L274.50 154.4L274.75 153.5L275.00 153.0L275.25 153.3L275.50 154.0L275.75 153.4L276.00 152.5L276.25 154.0L276.50 152.2L276.75 152.9L277.00 154.5L277.25 153.7L277.50 153.8L277.75 153.7L278.00 154.4L278.25 153.6L278.50 152.2L278.75 153.9L279.00 151.4L279.25 152.2L279.50 155.0L279.75 154.6L280.00 153.4L280.25 153.7L280.50 153.9L280.75 154.6L281.00 153.2L281.25 153.1L281.50 153.3L281.75 153.9L282.00 154.0L282.25 153.4L282.50 154.3L282.75 152.8L283.00 153.5L283.25 152.9L283.50 152.5L283.75 154.1L284.00 152.7L284.25 151.9L284.50 152.4L284.75 151.3L285.00 152.1L285.25 151.8L285.50 151.3L285.75 149.0L286.00 148.8L286.25 149.2L286.50 146.3L286.75 145.8L287.00 144.1L287.25 139.3L287.50 137.9L287.75 132.6L288.00 125.7L288.25 117.4L288.50 108.3L288.65 106.9L288.75 108.0L289.00 115.8L289.25 126.5L289.50 132.7L289.75 141.2L290.00 143.2L290.25 146.4L290.50 147.9L290.75 149.0L291.00 149.9L291.25 150.6L291.50 149.9L291.75 151.2L292.00 153.0L292.25 151.7L292.50 152.0L292.75 154.7L293.00 154.2L293.25 154.7L293.50 153.6L293.75 154.0L294.00 154.5L294.25 154.4L294.50 154.0L294.75 153.1L295.00 153.7L295.25 153.2L295.50 155.6L295.75 154.2L296.00 154.4L296.25 154.8L296.50 154.6L296.75 155.1L297.00 154.2L297.25 153.6L297.50 156.1L297.75 154.3L298.00 154.5L298.25 154.3L298.50 154.5L298.75 155.0L299.00 155.6L299.25 154.2L299.50 155.3L299.75 154.6L300.00 156.0L300.25 154.2L300.50 155.3L300.75 155.8L301.00 154.2L301.25 155.4L301.50 155.4L301.75 154.7L302.00 155.2L302.25 156.2L302.50 155.6L302.75 155.2L303.00 155.3L303.25 155.9L303.50 156.5L303.75 156.2L304.00 156.2L304.25 156.8L304.50 154.5L304.75 154.6L305.00 154.0L305.25 156.4L305.50 154.1L305.75 155.8L306.00 156.4L306.25 154.8L306.50 155.4L306.75 155.7L307.00 156.5L307.25 154.8L307.50 156.3L307.75 156.6L308.00 156.2L308.25 156.2L308.50 157.1L308.75 156.3L309.00 156.2L309.25 155.9L309.50 156.7L309.75 156.0L310.00 156.8L310.25 156.3L310.50 157.1L310.75 155.7L311.00 156.3L311.25 156.5L311.50 156.6L311.75 157.1L312.00 156.5L312.25 156.9L312.50 157.7L312.75 156.8L313.00 155.4L313.25 155.1L313.50 156.6L313.75 155.7L314.00 156.1L314.25 155.7L314.50 156.6L314.75 156.4L315.00 154.4L315.25 155.1L315.50 154.4L315.75 153.2L316.00 154.3L316.25 153.3L316.50 153.4L316.75 152.9L317.00 152.8L317.00 152.8L317.25 152.9L317.50 152.3L317.75 154.4L318.00 153.7L318.25 154.4L318.50 154.5L318.75 155.2L319.00 157.2L319.25 155.4L319.50 155.7L319.75 156.2L320.00 156.4L320.25 155.4L320.50 155.1L320.75 156.0L321.00 156.4L321.25 156.0L321.50 155.9L321.75 156.0L322.00 156.4L322.25 156.6L322.50 155.5L322.75 156.4L323.00 157.1L323.25 156.7L323.50 155.8L323.75 156.6L324.00 156.9L324.25 157.5L324.50 155.7L324.75 157.5L325.00 156.6L325.25 157.1L325.50 157.5L325.75 156.4L326.00 156.4L326.25 157.0L326.50 157.6L326.75 156.7L327.00 156.0L327.25 156.6L327.50 157.4L327.75 158.0L328.00 156.8L328.25 156.9L328.50 157.0L328.75 157.1L329.00 156.5L329.25 156.9L329.50 157.4L329.75 157.3L330.00 157.3L330.25 156.5L330.50 156.9L330.75 156.8L331.00 158.1L331.25 158.4L331.50 157.6L331.75 158.5L332.00 157.1L332.25 157.1L332.50 156.4L332.75 157.5L333.00 157.0L333.25 157.4L333.50 157.7L333.75 157.2L334.00 156.5L334.25 157.3L334.50 157.3L334.75 157.4L335.00 157.9L335.25 157.2L335.50 157.2L335.75 158.7L336.00 158.2L336.25 157.3L336.50 156.7L336.75 157.0L337.00 157.7L337.25 158.0L337.50 159.2L337.75 157.2L338.00 157.5L338.25 157.1L338.50 157.4L338.75 157.1L339.00 156.6L339.25 158.2L339.50 157.5L339.75 158.3L340.00 157.0L340.25 157.6L340.50 157.9L340.75 156.0L341.00 156.4L341.25 158.0L341.50 157.5L341.75 156.0L342.00 156.9L342.25 156.6L342.50 157.1L342.75 158.6L343.00 157.0L343.25 158.9L343.50 157.2L343.75 156.9L344.00 158.6L344.25 158.1L344.50 158.4L344.75 158.9L345.00 158.2L345.25 158.3L345.50 156.2L345.75 156.8L346.00 157.8L346.25 157.6L346.50 158.0L346.75 157.1L347.00 158.3L347.25 158.9L347.50 157.9L347.75 158.1L348.00 157.8L348.25 158.1L348.50 157.6L348.75 157.1L349.00 157.6L349.25 157.5L349.50 156.3L349.75 157.6L350.00 157.5L350.25 157.6L350.50 157.0L350.75 157.8L351.00 157.9L351.25 156.9L351.50 157.7L351.75 158.0L352.00 158.0L352.25 156.8L352.50 156.7L352.75 157.5L353.00 156.7L353.25 159.3L353.50 156.8L353.75 156.8L354.00 157.9L354.25 157.1L354.50 155.7L354.75 157.3L355.00 156.7L355.25 157.0L355.50 156.2L355.75 156.7L356.00 157.2L356.25 157.3L356.50 156.5L356.75 156.8L357.00 156.7L357.25 157.4L357.50 157.2L357.75 156.4L358.00 157.8L358.25 156.8L358.50 157.6L358.75 156.6L359.00 157.5L359.25 157.2L359.50 157.3L359.75 157.6L360.00 157.6L360.25 157.4L360.50 157.3L360.75 156.3L361.00 157.2L361.25 155.6L361.50 155.5L361.75 157.0L362.00 157.0L362.25 158.3L362.50 157.7L362.75 158.0L363.00 156.9L363.25 157.5L363.50 158.0L363.75 157.5L364.00 157.4L364.25 157.2L364.50 156.5L364.75 156.5L365.00 156.1L365.25 157.4L365.50 156.9L365.75 156.6L366.00 157.4L366.25 156.7L366.50 157.9L366.75 158.5L367.00 157.4L367.25 156.6L367.50 156.0L367.75 158.6L368.00 157.4L368.25 156.2L368.50 157.9L368.75 155.8L369.00 156.7L369.25 156.9L369.50 156.8L369.75 156.2L370.00 158.8L370.25 156.7L370.50 157.3L370.75 157.0L371.00 155.8L371.25 156.6L371.50 157.1L371.75 157.7L372.00 156.7L372.25 157.2L372.50 156.7L372.75 157.4L373.00 155.1L373.25 157.4L373.50 156.5L373.75 156.5L374.00 154.8L374.25 156.1L374.50 157.4L374.75 158.6L375.00 156.4L375.25 156.4L375.50 157.2L375.75 157.1L376.00 156.4L376.25 156.7L376.50 156.5L376.75 157.3L377.00 157.4L377.25 158.1L377.50 157.5L377.75 157.3L378.00 156.9L378.25 157.4L378.50 156.0L378.75 158.3L379.00 156.9L379.25 157.7L379.50 156.1L379.75 157.4L380.00 156.9L380.25 156.5L380.50 156.1L380.75 156.0L381.00 157.9L381.25 157.5L381.50 156.7L381.75 156.7L382.00 156.0L382.25 155.1L382.50 155.1L382.75 155.9L383.00 156.2L383.25 155.3L383.50 156.6L383.75 156.2L384.00 155.7L384.25 153.9L384.50 154.7L384.75 154.3L385.00 152.8L385.25 151.4L385.50 153.7L385.75 152.1L386.00 150.7L386.25 150.7L386.42 150.6L386.50 150.6L386.75 151.1L387.00 152.0L387.25 153.2L387.50 152.9L387.75 153.4L388.00 154.7L388.25 152.7L388.50 155.4L388.75 155.4L389.00 156.0L389.25 156.1L389.50 156.7L389.75 156.6L390.00 156.7L390.25 156.7L390.50 157.2L390.75 156.5L391.00 157.7L391.25 155.8L391.50 157.2L391.75 157.4L392.00 156.2L392.25 156.8L392.50 158.2L392.75 157.1L393.00 156.6L393.25 155.0L393.50 157.5L393.75 157.3L394.00 157.6L394.25 158.7L394.50 157.1L394.75 157.2L395.00 156.6L395.25 157.0L395.50 157.0L395.75 157.6L396.00 157.4L396.25 156.4L396.50 156.6L396.75 158.0L397.00 156.2L397.25 157.4L397.50 158.1L397.75 157.3L398.00 157.0L398.25 157.8L398.50 157.0L398.75 156.7L399.00 156.5L399.25 157.5L399.50 157.2L399.75 157.8L400.00 156.3L400.25 156.3L400.50 156.2L400.75 156.7L401.00 156.0L401.25 157.1L401.50 156.7L401.75 155.7L402.00 154.1L402.25 155.0L402.50 157.4L402.75 156.2L403.00 156.4L403.25 155.9L403.50 156.5L403.75 154.7L404.00 154.6L404.25 154.9L404.50 156.1L404.75 156.6L405.00 156.4L405.25 155.9L405.50 155.0L405.75 156.5L406.00 155.7L406.25 155.9L406.50 155.9L406.75 155.6L407.00 155.4L407.25 155.5L407.50 154.9L407.75 156.1L408.00 155.8L408.25 156.7L408.50 154.5L408.75 156.8L409.00 155.9L409.25 155.8L409.50 155.3L409.75 155.3L410.00 154.8L410.25 156.6L410.50 155.7L410.75 156.4L411.00 156.5L411.25 155.5L411.50 155.7L411.75 155.6L412.00 156.7L412.25 156.0L412.50 156.0L412.75 156.4L413.00 155.8L413.25 157.4L413.50 155.2L413.75 156.8L414.00 156.9L414.25 155.0L414.50 156.5L414.75 156.1L415.00 156.5L415.25 155.0L415.50 156.0L415.75 155.1L416.00 155.6L416.25 156.9L416.50 155.7L416.75 154.1L417.00 154.8L417.25 155.0L417.50 156.6L417.75 155.3L418.00 154.6L418.25 156.6L418.50 156.0L418.75 156.0L419.00 155.2L419.25 156.8L419.50 155.7L419.75 154.3L420.00 154.9L420.25 155.1L420.50 155.6L420.75 156.3L421.00 155.1L421.25 155.2L421.50 157.3L421.75 155.7L422.00 155.2L422.25 155.5L422.50 154.5L422.75 155.8L423.00 156.0L423.25 154.7L423.50 155.7L423.75 154.4L424.00 154.5L424.25 153.3L424.50 152.6L424.75 151.4L425.00 151.8L425.25 150.5L425.50 149.6L425.75 148.1L426.00 148.4L426.17 148.3L426.25 148.3L426.50 148.9L426.75 148.9L427.00 150.5L427.25 152.6L427.50 152.2L427.75 154.4L428.00 153.8L428.25 155.0L428.50 153.9L428.75 155.4L429.00 153.8L429.25 155.0L429.50 154.5L429.75 153.2L430.00 153.5L430.25 155.2L430.50 154.3L430.75 154.4L431.00 153.0L431.25 149.9L431.50 151.3L431.75 149.7L432.00 148.7L432.25 147.9L432.50 147.8L432.60 147.8L432.75 147.9L433.00 148.8L433.25 148.9L433.50 150.1L433.75 152.2L434.00 152.8L434.25 153.4L434.50 153.1L434.75 154.2L435.00 154.1L435.25 153.8L435.50 156.2L435.75 155.4L436.00 155.5L436.25 155.2L436.50 156.6L436.75 157.7L437.00 156.6L437.25 156.9L437.50 155.4L437.75 156.5L438.00 156.5L438.25 157.5L438.50 156.5L438.75 155.8L439.00 156.5L439.25 156.2L439.50 157.6L439.75 157.1L440.00 156.9L440.25 156.8L440.50 157.3L440.75 156.3L441.00 156.0L441.25 155.3L441.50 157.6L441.75 157.1L442.00 157.2L442.25 156.8L442.50 158.0L442.75 156.1L443.00 157.7L443.25 156.2L443.50 156.5L443.75 155.9L444.00 156.9L444.25 156.7L444.50 157.2L444.75 156.5L445.00 155.9L445.25 157.3L445.50 157.9L445.75 157.5L446.00 156.9L446.25 157.3L446.50 155.7L446.75 156.7L447.00 157.9L447.25 157.3L447.50 156.4L447.75 157.6L448.00 156.9L448.25 157.6L448.50 156.0L448.75 156.6L449.00 157.3L449.25 157.2L449.50 157.4L449.75 157.0L450.00 156.9L450.25 157.4L450.50 157.6L450.75 155.9L451.00 156.7L451.25 156.8L451.50 157.0L451.75 157.6L452.00 155.8L452.25 157.1L452.50 155.4L452.75 155.9L453.00 155.9L453.25 155.9L453.50 155.4L453.75 155.1L454.00 154.9L454.25 154.5L454.50 152.9L454.75 152.8L455.00 153.6L455.25 153.5L455.28 153.5L455.50 153.6L455.75 153.9L456.00 153.6L456.25 154.8L456.50 155.6L456.75 155.6L457.00 155.1L457.25 156.1L457.50 156.4L457.75 155.6L458.00 155.9L458.25 157.9L458.50 155.4L458.75 157.3L459.00 157.0L459.25 158.3L459.50 157.8L459.75 156.7L460.00 158.3L460.25 157.0L460.50 159.0L460.75 158.7L461.00 157.5L461.25 158.1L461.50 157.7L461.75 156.9L462.00 158.4L462.25 157.9L462.50 158.3L462.75 158.5L463.00 158.7L463.25 158.5L463.50 157.6L463.75 157.8L464.00 158.0L464.25 157.7L464.50 157.6L464.75 159.2L465.00 158.2L465.25 159.2L465.50 157.2L465.75 157.8L466.00 157.5L466.25 157.6L466.50 157.7L466.75 157.8L467.00 157.6L467.25 159.2L467.50 158.4L467.75 157.4L468.00 157.5L468.25 158.5L468.50 158.4L468.75 157.5L469.00 158.7L469.25 156.9L469.50 157.7L469.75 159.3L470.00 156.1L470.25 157.9L470.50 158.8L470.75 158.0L471.00 157.5L471.25 157.4L471.50 156.6L471.75 157.1L472.00 158.2L472.25 157.7L472.50 158.1L472.75 158.0L473.00 158.4L473.25 156.9L473.50 158.0L473.75 157.9L474.00 158.0L474.25 157.5L474.50 156.6L474.75 158.7L475.00 158.8L475.25 159.9L475.50 158.7L475.75 159.4L476.00 158.6L476.25 157.9L476.50 158.5L476.75 157.3L477.00 158.3L477.25 158.0L477.50 157.3L477.75 159.0L478.00 158.9L478.25 158.4L478.50 158.7L478.75 159.3L479.00 158.0L479.25 157.0L479.50 157.3L479.75 158.6L480.00 158.2L480.25 156.9L480.50 159.0L480.75 158.2L481.00 159.2L481.25 158.8L481.50 157.7L481.75 158.0L482.00 157.4L482.25 157.3L482.50 157.7L482.75 158.3L483.00 159.0L483.25 157.3L483.50 158.4L483.75 157.9L484.00 157.7L484.25 158.7L484.50 157.6L484.75 158.9L485.00 157.6L485.25 157.2L485.50 158.4L485.75 156.8L486.00 157.0L486.25 157.7L486.50 157.8L486.75 157.6L487.00 156.4L487.25 156.8L487.50 158.2L487.75 158.2L488.00 157.0L488.25 158.0L488.50 157.9L488.75 158.5L489.00 157.2L489.25 158.8L489.50 157.5L489.75 158.8L490.00 158.4L490.25 157.0L490.50 157.5L490.75 157.9L491.00 158.5L491.25 156.7L491.50 157.3L491.75 158.1L492.00 158.0L492.25 156.9L492.50 157.0L492.75 158.0L493.00 156.9L493.25 157.8L493.50 158.3L493.75 157.6L494.00 155.6L494.25 158.5L494.50 158.5L494.75 158.6L495.00 158.2L495.25 156.3L495.50 158.6L495.75 157.8L496.00 158.2L496.25 157.4L496.50 157.3L496.75 157.3L497.00 158.7L497.25 157.7L497.50 157.3L497.75 156.5L498.00 157.8L498.25 157.4L498.50 157.5L498.75 158.1L499.00 157.9L499.25 157.4L499.50 157.5L499.75 157.4L500.00 157.9L500.25 157.9L500.50 157.4L500.75 156.7L501.00 157.9L501.25 158.0L501.50 156.5L501.75 157.6L502.00 157.0L502.25 155.6L502.50 157.2L502.75 157.9L503.00 156.7L503.25 156.7L503.50 158.0L503.75 156.4L504.00 156.5L504.25 156.9L504.50 157.6L504.75 157.6L505.00 156.7L505.25 156.9L505.50 157.2L505.75 156.8L506.00 156.4L506.25 156.3L506.50 157.6L506.75 156.9L507.00 159.2L507.25 157.5L507.50 156.5L507.75 157.0L508.00 157.2L508.25 157.3L508.50 157.3L508.75 157.3L509.00 156.8L509.25 157.4L509.50 158.6L509.75 156.6L510.00 156.6L510.25 157.4L510.50 157.8L510.75 157.5L511.00 157.8L511.25 156.8L511.50 156.7L511.75 157.3L512.00 157.3L512.25 158.1L512.50 158.0L512.75 155.4L513.00 157.4L513.25 156.3L513.50 155.2L513.75 157.0L514.00 156.6L514.25 156.5L514.50 155.7L514.75 155.9L515.00 156.5L515.25 155.5L515.50 156.6L515.75 156.7L516.00 156.5L516.25 156.8L516.50 156.6L516.75 155.7L517.00 155.8L517.25 156.7L517.50 157.3L517.75 156.7L518.00 156.2L518.25 156.7L518.50 155.3L518.75 155.9L519.00 156.4L519.25 156.6L519.50 156.4L519.75 156.5L520.00 155.8L520.25 156.2L520.50 156.9L520.75 155.3L521.00 155.8L521.25 156.4L521.50 157.8L521.75 157.2L522.00 157.9L522.25 157.7L522.50 156.4L522.75 156.7L523.00 155.9L523.25 157.6L523.50 157.3L523.75 157.2L524.00 157.3L524.25 157.1L524.50 156.9L524.75 157.0L525.00 157.7L525.25 156.2L525.50 156.0L525.75 156.8L526.00 157.7L526.25 157.0L526.50 156.7L526.75 157.5L527.00 156.9L527.25 155.4L527.50 156.1L527.75 155.3L528.00 156.7L528.25 156.5L528.50 157.2L528.75 158.5L529.00 156.4L529.25 156.9L529.50 156.6L529.75 154.8L530.00 156.4L530.25 156.4L530.50 157.1L530.75 156.3L531.00 156.0L531.25 157.4L531.50 156.9L531.75 156.3L532.00 156.4L532.25 156.8"/>
<path d="M50.00 235.2L50.25 235.6L50.50 233.8L50.75 235.5L51.00 234.8L51.25 235.0L51.50 235.4L51.75 234.1L52.00 235.4L52.25 233.9L52.50 234.5L52.75 234.2L53.00 236.0L53.25 235.9L53.50 235.4L53.75 235.2L54.00 234.5L54.25 236.1L54.50 235.9L54.75 235.5L55.00 234.9L55.25 234.7L55.50 234.9L55.75 235.9L56.00 234.4L56.25 235.1L56.50 236.1L56.75 235.6L57.00 236.2L57.25 235.4L57.50 235.4L57.75 236.0L58.00 235.6L58.25 235.4L58.50 234.8L58.75 234.2L59.00 236.2L59.25 234.9L59.50 234.7L59.75 235.8L60.00 234.7L60.25 234.4L60.50 234.9L60.75 235.3L61.00 235.5L61.25 235.7L61.50 236.0L61.75 235.3L62.00 235.6L62.25 235.3L62.50 235.0L62.75 235.7L63.00 235.7L63.25 236.7L63.50 235.9L63.75 235.0L64.00 235.9L64.25 235.3L64.50 236.6L64.75 234.4L65.00 235.1L65.25 235.1L65.50 235.7L65.75 235.5L66.00 234.5L66.25 234.4L66.50 235.7L66.75 236.6L67.00 236.6L67.25 235.4L67.50 236.0L67.75 235.1L68.00 234.8L68.25 236.5L68.50 236.2L68.75 235.5L69.00 235.5L69.25 236.4L69.50 236.0L69.75 235.6L70.00 236.0L70.25 235.8L70.50 235.5L70.75 235.3L71.00 236.4L71.25 235.5L71.50 235.0L71.75 237.0L72.00 236.6L72.25 236.1L72.50 235.7L72.75 235.9L73.00 234.8L73.25 235.7L73.50 235.9L73.75 235.6L74.00 236.0L74.25 235.2L74.50 235.8L74.75 234.6L75.00 235.7L75.25 235.3L75.50 234.8L75.75 235.4L76.00 235.7L76.25 235.2L76.50 236.3L76.75 235.2L77.00 236.2L77.25 236.1L77.50 235.2L77.75 236.5L78.00 234.7L78.25 235.9L78.50 235.6L78.75 236.1L79.00 234.5L79.25 234.8L79.50 235.0L79.75 235.5L80.00 235.6L80.25 235.5L80.50 235.3L80.75 235.0L81.00 234.6L81.25 235.2L81.50 235.8L81.75 236.1L82.00 235.1L82.25 236.2L82.50 234.5L82.75 235.9L83.00 234.7L83.25 235.6L83.50 234.8L83.75 234.8L84.00 235.0L84.25 236.3L84.50 234.9L84.75 235.8L85.00 235.5L85.25 235.6L85.50 235.6L85.75 235.8L86.00 234.5L86.25 235.4L86.50 235.6L86.75 234.9L87.00 235.5L87.25 234.6L87.50 235.8L87.75 234.8L88.00 235.1L88.25 235.8L88.50 236.0L88.75 234.9L89.00 234.8L89.25 235.9L89.50 233.3L89.75 236.1L90.00 236.1L90.25 234.5L90.50 236.0L90.75 235.4L91.00 235.5L91.25 233.6L91.50 234.8L91.75 235.0L92.00 234.9L92.25 234.9L92.50 234.9L92.75 233.2L93.00 234.9L93.25 234.6L93.50 234.9L93.75 234.6L94.00 234.9L94.25 235.1L94.50 236.0L94.75 234.3L95.00 235.9L95.25 234.6L95.50 234.2L95.75 233.8L96.00 235.3L96.25 233.7L96.50 235.2L96.75 234.8L97.00 234.2L97.25 234.1L97.50 234.8L97.75 234.6L98.00 235.0L98.25 234.4L98.50 234.1L98.75 234.7L99.00 233.6L99.25 234.9L99.50 234.3L99.75 233.5L100.00 233.5L100.25 234.0L100.50 232.9L100.75 235.0L101.00 234.7L101.25 233.3L101.50 233.9L101.75 235.0L102.00 234.1L102.25 233.1L102.50 232.3L102.75 232.5L103.00 234.3L103.25 233.6L103.50 232.3L103.75 233.5L104.00 232.6L104.25 232.1L104.50 231.9L104.75 231.6L105.00 232.7L105.25 230.5L105.50 230.3L105.75 230.8L106.00 230.1L106.25 227.5L106.50 228.4L106.75 226.4L107.00 223.1L107.25 223.5L107.50 219.3L107.75 218.3L108.00 213.3L108.25 206.0L108.50 195.5L108.75 180.2L108.88 177.4L109.00 180.7L109.25 196.6L109.50 210.0L109.75 217.1L110.00 222.4L110.25 224.5L110.50 226.0L110.75 227.1L111.00 228.3L111.25 228.2L111.50 229.7L111.75 229.8L112.00 231.8L112.25 230.7L112.50 231.3L112.75 231.9L113.00 232.7L113.25 232.7L113.50 232.6L113.75 234.2L114.00 232.8L114.25 233.2L114.50 234.9L114.75 232.5L115.00 233.8L115.25 233.5L115.50 232.4L115.75 232.9L116.00 233.9L116.25 232.4L116.50 233.2L116.75 234.0L117.00 233.2L117.25 233.5L117.50 232.9L117.75 232.9L118.00 233.0L118.25 233.1L118.50 233.8L118.75 233.4L119.00 234.7L119.25 233.7L119.50 233.5L119.75 234.8L120.00 233.2L120.25 232.8L120.50 233.4L120.75 232.5L121.00 233.6L121.25 233.9L121.50 233.2L121.75 232.2L122.00 232.1L122.25 232.1L122.50 232.0L122.75 230.2L123.00 229.4L123.25 229.5L123.50 228.0L123.67 227.9L123.75 227.9L124.00 227.8L124.25 228.9L124.50 230.4L124.75 230.2L125.00 230.5L125.25 231.1L125.50 231.3L125.75 232.8L126.00 230.4L126.25 230.9L126.50 231.9L126.75 230.3L127.00 230.0L127.13 230.0L127.25 230.1L127.50 230.9L127.75 231.1L128.00 230.8L128.25 231.4L128.50 231.3L128.75 232.0L129.00 231.5L129.25 232.1L129.50 230.7L129.75 231.4L130.00 229.8L130.25 231.6L130.50 232.2L130.75 231.5L131.00 233.3L131.25 231.0L131.50 231.5L131.75 231.1L132.00 231.4L132.25 231.4L132.50 230.7L132.75 231.0L133.00 233.1L133.25 231.5L133.50 232.3L133.75 230.8L134.00 231.6L134.25 232.1L134.50 231.6L134.75 231.3L135.00 231.6L135.25 231.7L135.50 232.2L135.75 232.5L136.00 230.8L136.25 230.3L136.50 231.5L136.75 231.7L137.00 232.1L137.25 232.4L137.50 231.2L137.75 233.0L138.00 231.8L138.25 230.4L138.50 232.3L138.75 231.8L139.00 231.8L139.25 230.5L139.50 231.3L139.75 231.5L140.00 231.2L140.25 231.7L140.50 231.9L140.75 231.9L141.00 231.4L141.25 230.3L141.50 230.2L141.65 230.2L141.75 230.2L142.00 230.2L142.25 229.6L142.50 229.3L142.75 231.1L143.00 230.7L143.25 231.3L143.50 232.0L143.75 230.5L144.00 230.4L144.25 231.8L144.50 231.9L144.75 231.5L145.00 231.3L145.25 230.6L145.50 231.6L145.75 231.2L146.00 232.0L146.25 232.3L146.50 231.3L146.75 232.0L147.00 231.8L147.25 232.2L147.50 232.7L147.75 232.2L148.00 232.2L148.25 232.3L148.50 231.4L148.75 231.7L149.00 232.0L149.25 232.6L149.50 232.6L149.75 233.3L150.00 231.0L150.25 231.7L150.50 230.6L150.75 231.4L151.00 230.6L151.25 232.5L151.50 232.2L151.75 231.0L152.00 231.9L152.25 232.2L152.50 232.8L152.75 232.2L153.00 231.7L153.25 231.6L153.50 232.1L153.75 231.8L154.00 231.3L154.25 230.8L154.50 232.3L154.75 231.1L155.00 231.4L155.25 232.1L155.50 231.6L155.75 232.3L156.00 230.8L156.25 232.1L156.50 230.7L156.75 230.6L157.00 230.9L157.25 231.6L157.50 231.1L157.75 230.6L158.00 232.4L158.25 230.9L158.50 231.5L158.75 231.7L159.00 231.2L159.25 231.8L159.50 232.0L159.75 231.5L160.00 232.3L160.25 231.2L160.50 230.8L160.75 231.7L161.00 230.9L161.25 231.8L161.50 231.5L161.75 231.2L162.00 231.9L162.25 231.9L162.50 229.6L162.75 231.3L163.00 231.7L163.25 231.9L163.50 231.2L163.75 230.8L164.00 231.6L164.25 232.0L164.50 230.2L164.75 230.6L165.00 231.2L165.25 229.8L165.50 231.2L165.75 232.1L166.00 230.9L166.25 231.7L166.50 231.0L166.75 231.8L167.00 232.0L167.25 232.4L167.50 231.6L167.75 232.3L168.00 231.8L168.25 231.3L168.50 232.6L168.75 231.2L169.00 231.7L169.25 233.2L169.50 232.2L169.75 231.1L170.00 231.8L170.25 231.2L170.50 231.5L170.75 230.6L171.00 231.8L171.25 230.6L171.50 231.9L171.75 231.9L172.00 232.2L172.25 233.2L172.50 230.6L172.75 230.9L173.00 231.0L173.25 231.3L173.50 232.3L173.75 231.5L174.00 231.3L174.25 231.0L174.50 231.3L174.75 231.4L175.00 231.7L175.25 230.8L175.50 231.7L175.75 232.1L176.00 232.0L176.25 230.9L176.50 232.3L176.75 232.3L177.00 232.0L177.25 231.0L177.50 230.8L177.75 231.8L178.00 231.1L178.25 230.9L178.50 232.4L178.75 232.4L179.00 232.3L179.25 232.7L179.50 232.4L179.75 231.1L180.00 232.6L180.25 231.9L180.50 232.2L180.75 232.9L181.00 232.2L181.25 232.9L181.50 231.9L181.75 231.6L182.00 231.4L182.25 231.8L182.50 230.8L182.75 231.9L183.00 231.8L183.25 231.6L183.50 230.4L183.75 230.5L184.00 232.4L184.25 231.3L184.50 232.9L184.75 231.5L185.00 232.2L185.25 231.0L185.50 231.6L185.75 231.8L186.00 232.4L186.25 233.1L186.50 232.7L186.75 231.0L187.00 232.0L187.25 231.9L187.50 231.6L187.75 232.4L188.00 233.1L188.25 231.7L188.50 232.8L188.75 233.0L189.00 231.4L189.25 233.3L189.50 233.2L189.75 232.3L190.00 233.2L190.25 232.3L190.50 232.9L190.75 232.6L191.00 231.6L191.25 232.3L191.50 232.1L191.75 231.8L192.00 231.4L192.25 231.7L192.50 231.4L192.75 233.0L193.00 230.9L193.25 232.3L193.50 231.9L193.75 231.4L194.00 232.8L194.25 231.8L194.50 233.1L194.75 232.2L195.00 232.6L195.25 232.3L195.50 232.8L195.75 233.0L196.00 232.1L196.25 232.4L196.50 233.6L196.75 232.0L197.00 233.7L197.25 232.2L197.50 232.1L197.75 231.3L198.00 231.9L198.25 231.3L198.50 232.1L198.75 233.0L199.00 232.5L199.25 232.2L199.50 231.9L199.75 232.1L200.00 231.6L200.25 231.8L200.50 233.9L200.75 232.8L201.00 232.0L201.25 233.1L201.50 233.7L201.75 232.3L202.00 232.6L202.25 231.9L202.50 231.7L202.75 233.7L203.00 235.1L203.25 232.3L203.50 231.7L203.75 233.7L204.00 233.5L204.25 233.1L204.50 233.8L204.75 232.6L205.00 233.0L205.25 233.4L205.50 232.7L205.75 233.2L206.00 232.7L206.25 233.2L206.50 233.0L206.75 231.6L207.00 233.0L207.25 232.0L207.50 232.4L207.75 231.9L208.00 233.6L208.25 232.8L208.50 232.8L208.75 233.9L209.00 233.5L209.25 232.9L209.50 231.7L209.75 233.5L210.00 232.9L210.25 232.9L210.50 233.6L210.75 232.7L211.00 233.1L211.25 233.8L211.50 233.6L211.75 232.8L212.00 234.2L212.25 234.0L212.50 234.5L212.75 233.2L213.00 233.4L213.25 234.0L213.50 233.6L213.75 233.4L214.00 233.2L214.25 233.1L214.50 232.9L214.75 232.9L215.00 233.6L215.25 233.2L215.50 232.4L215.75 233.4L216.00 234.5L216.25 234.3L216.50 232.1L216.75 232.9L217.00 234.0L217.25 233.5L217.50 233.5L217.75 233.4L218.00 233.6L218.25 232.8L218.50 234.3L218.75 232.9L219.00 233.5L219.25 234.6L219.50 234.3L219.75 233.6L220.00 233.6L220.25 233.2L220.50 233.3L220.75 233.5L221.00 234.6L221.25 233.4L221.50 234.1L221.75 234.0L222.00 234.0L222.25 233.5L222.50 234.2L222.75 233.9L223.00 233.8L223.25 233.5L223.50 232.4L223.75 234.3L224.00 234.3L224.25 233.5L224.50 233.7L224.75 234.0L225.00 233.2L225.25 234.4L225.50 234.4L225.75 234.5L226.00 234.5L226.25 232.6L226.50 234.3L226.75 233.6L227.00 234.7L227.25 234.7L227.50 234.5L227.75 233.9L228.00 235.8L228.25 233.9L228.50 233.2L228.75 234.6L229.00 232.9L229.25 235.1L229.50 234.5L229.75 234.7L230.00 234.4L230.25 233.9L230.50 232.7L230.75 233.1L231.00 233.7L231.25 233.0L231.50 233.2L231.75 232.2L232.00 231.9L232.25 232.2L232.50 232.1L232.75 231.1L233.00 229.8L233.25 228.6L233.50 230.1L233.75 226.7L234.00 225.3L234.25 223.0L234.50 220.9L234.75 216.0L235.00 213.4L235.13 213.0L235.25 213.5L235.50 217.1L235.75 220.4L236.00 224.6L236.25 227.7L236.50 228.7L236.75 229.4L237.00 230.5L237.25 231.1L237.50 231.9L237.75 230.5L238.00 231.0L238.25 232.8L238.50 232.5L238.75 232.8L239.00 233.0L239.25 232.9L239.50 232.8L239.75 233.2L240.00 233.6L240.25 233.5L240.50 233.3L240.75 232.6L241.00 233.4L241.25 232.5L241.50 232.8L241.75 233.4L242.00 233.4L242.25 234.0L242.50 233.9L242.75 233.7L243.00 233.1L243.25 233.4L243.50 233.2L243.75 234.5L244.00 233.6L244.25 232.8L244.50 232.6L244.75 233.8L245.00 232.2L245.25 232.9L245.50 232.5L245.75 232.9L246.00 231.5L246.25 231.9L246.40 231.9L246.50 232.0L246.75 233.0L247.00 232.4L247.25 232.4L247.50 233.5L247.75 232.2L248.00 233.5L248.25 232.9L248.50 232.9L248.75 232.8L249.00 232.9L249.25 234.7L249.50 234.8L249.75 234.3L250.00 235.0L250.25 234.4L250.50 234.1L250.75 233.8L251.00 235.0L251.25 235.1L251.50 235.4L251.75 234.1L252.00 234.5L252.25 233.8L252.50 235.5L252.75 235.3L253.00 235.2L253.25 234.9L253.50 234.8L253.75 234.7L254.00 235.7L254.25 234.6L254.50 235.6L254.75 235.3L255.00 234.4L255.25 234.2L255.50 234.7L255.75 235.2L256.00 234.4L256.25 235.7L256.50 236.1L256.75 235.7L257.00 234.2L257.25 233.8L257.50 236.0L257.75 236.5L258.00 235.2L258.25 235.9L258.50 235.4L258.75 235.2L259.00 236.3L259.25 235.3L259.50 236.3L259.75 236.9L260.00 235.7L260.25 237.0L260.50 234.9L260.75 236.4L261.00 235.8L261.25 237.6L261.50 235.9L261.75 235.4L262.00 237.0L262.25 234.9L262.50 236.3L262.75 235.5L263.00 236.9L263.25 236.0L263.50 236.6L263.75 236.1L264.00 235.4L264.25 234.7L264.50 237.3L264.75 236.3L265.00 235.4L265.25 236.0L265.50 236.9L265.75 235.3L266.00 237.8L266.25 236.1L266.50 236.1L266.75 237.2L267.00 236.5L267.25 235.7L267.50 237.0L267.75 236.7L268.00 237.2L268.25 235.8L268.50 235.6L268.75 236.8L269.00 236.0L269.25 234.9L269.50 235.9L269.75 236.7L270.00 235.7L270.25 237.1L270.50 235.8L270.75 236.1L271.00 235.0L271.25 235.6L271.50 235.9L271.75 236.4L272.00 236.1L272.25 236.7L272.50 234.5L272.75 235.9L273.00 235.8L273.25 235.2L273.50 235.8L273.75 235.3L274.00 236.1L274.25 235.5L274.50 236.1L274.75 235.1L275.00 236.5L275.25 235.9L275.50 236.8L275.75 235.5L276.00 235.2L276.25 235.6L276.50 235.2L276.75 234.8L277.00 235.4L277.25 235.4L277.50 234.9L277.75 235.1L278.00 234.7L278.25 235.4L278.50 234.3L278.75 236.4L279.00 235.2L279.25 235.8L279.50 234.3L279.75 235.3L280.00 234.9L280.25 235.7L280.50 235.5L280.75 233.8L281.00 235.6L281.25 233.8L281.50 235.6L281.75 234.6L282.00 233.8L282.25 235.0L282.50 234.5L282.75 233.8L283.00 233.8L283.25 234.5L283.50 233.2L283.75 233.3L284.00 235.0L284.25 233.0L284.50 233.5L284.75 233.2L285.00 233.2L285.25 232.6L285.50 229.8L285.75 230.4L286.00 230.7L286.25 228.3L286.50 228.8L286.75 226.2L287.00 223.3L287.25 222.1L287.50 219.7L287.75 213.1L288.00 207.1L288.25 197.5L288.50 190.6L288.65 189.3L288.75 190.3L289.00 198.3L289.25 208.0L289.50 217.4L289.75 220.6L290.00 223.7L290.25 227.7L290.50 229.1L290.75 229.2L291.00 232.2L291.25 231.3L291.50 231.4L291.75 233.2L292.00 233.8L292.25 235.3L292.50 233.0L292.75 233.4L293.00 234.3L293.25 234.4L293.50 234.9L293.75 234.6L294.00 234.1L294.25 235.0L294.50 235.9L294.75 236.0L295.00 235.1L295.25 236.0L295.50 235.9L295.75 235.3L296.00 235.5L296.25 235.8L296.50 237.7L296.75 235.9L297.00 235.2L297.25 235.7L297.50 235.5L297.75 236.6L298.00 234.4L298.25 235.2L298.50 236.5L298.75 236.2L299.00 236.0L299.25 236.5L299.50 235.1L299.75 236.2L300.00 235.2L300.25 235.2L300.50 236.4L300.75 235.5L301.00 235.8L301.25 236.5L301.50 235.4L301.75 236.5L302.00 237.6L302.25 236.0L302.50 236.8L302.75 236.7L303.00 235.3L303.25 235.2L303.50 236.2L303.75 234.7L304.00 236.2L304.25 236.4L304.50 236.5L304.75 236.5L305.00 237.2L305.25 236.0L305.50 237.2L305.75 236.6L306.00 236.6L306.25 236.2L306.50 237.0L306.75 235.8L307.00 236.8L307.25 237.1L307.50 235.9L307.75 235.7L308.00 235.8L308.25 236.3L308.50 236.6L308.75 237.0L309.00 237.7L309.25 237.5L309.50 236.6L309.75 236.1L310.00 235.6L310.25 237.0L310.50 236.8L310.75 236.2L311.00 236.3L311.25 236.3L311.50 234.6L311.75 236.3L312.00 236.6L312.25 236.3L312.50 235.6L312.75 236.3L313.00 236.6L313.25 237.5L313.50 236.9L313.75 236.5L314.00 236.0L314.25 235.0L314.50 235.4L314.75 234.6L315.00 235.2L315.25 235.7L315.50 235.3L315.75 234.8L316.00 233.8L316.25 234.1L316.50 232.8L316.75 232.8L317.00 232.7L317.00 232.7L317.25 232.8L317.50 232.7L317.75 231.8L318.00 233.5L318.25 235.1L318.50 234.3L318.75 236.0L319.00 235.5L319.25 235.1L319.50 234.7L319.75 236.6L320.00 236.7L320.25 235.3L320.50 236.1L320.75 237.2L321.00 236.0L321.25 236.9L321.50 235.3L321.75 236.0L322.00 237.2L322.25 235.9L322.50 235.8L322.75 235.8L323.00 236.5L323.25 235.7L323.50 236.8L323.75 237.2L324.00 237.9L324.25 236.6L324.50 238.0L324.75 237.3L325.00 236.8L325.25 237.3L325.50 238.0L325.75 238.0L326.00 237.5L326.25 236.9L326.50 237.6L326.75 237.2L327.00 237.2L327.25 237.2L327.50 238.3L327.75 236.3L328.00 237.0L328.25 236.3L328.50 237.7L328.75 237.9L329.00 238.1L329.25 236.9L329.50 237.2L329.75 237.7L330.00 237.3L330.25 237.4L330.50 237.3L330.75 237.4L331.00 237.1L331.25 237.5L331.50 236.2L331.75 236.9L332.00 236.3L332.25 237.2L332.50 236.7L332.75 237.6L333.00 238.1L333.25 236.4L333.50 236.7L333.75 237.5L334.00 238.2L334.25 237.8L334.50 237.6L334.75 237.2L335.00 237.0L335.25 237.5L335.50 237.6L335.75 237.4L336.00 236.9L336.25 236.2L336.50 236.7L336.75 237.0L337.00 236.5L337.25 237.5L337.50 236.3L337.75 237.1L338.00 237.5L338.25 237.8L338.50 237.4L338.75 238.1L339.00 236.9L339.25 236.7L339.50 238.0L339.75 236.7L340.00 237.2L340.25 236.1L340.50 238.0L340.75 237.8L341.00 236.8L341.25 236.1L341.50 237.4L341.75 237.5L342.00 238.1L342.25 238.5L342.50 237.4L342.75 237.1L343.00 237.1L343.25 237.1L343.50 236.3L343.75 236.7L344.00 237.2L344.25 236.2L344.50 236.4L344.75 238.1L345.00 236.8L345.25 237.8L345.50 238.0L345.75 237.3L346.00 237.8L346.25 237.2L346.50 236.7L346.75 237.2L347.00 237.3L347.25 237.4L347.50 237.3L347.75 237.0L348.00 238.0L348.25 237.1L348.50 237.0L348.75 237.9L349.00 236.6L349.25 237.3L349.50 238.3L349.75 237.3L350.00 238.3L350.25 237.1L350.50 236.9L350.75 237.2L351.00 236.9L351.25 237.1L351.50 237.0L351.75 237.8L352.00 237.6L352.25 237.2L352.50 236.8L352.75 239.5L353.00 237.2L353.25 238.2L353.50 236.5L353.75 236.8L354.00 238.1L354.25 236.5L354.50 236.6L354.75 237.2L355.00 236.8L355.25 237.1L355.50 237.4L355.75 237.8L356.00 237.4L356.25 237.4L356.50 238.1L356.75 238.2L357.00 237.0L357.25 236.0L357.50 236.5L357.75 237.9L358.00 236.9L358.25 236.7L358.50 236.9L358.75 238.3L359.00 237.2L359.25 236.9L359.50 236.7L359.75 236.4L360.00 239.1L360.25 237.1L360.50 237.2L360.75 236.9L361.00 237.8L361.25 236.4L361.50 235.8L361.75 236.7L362.00 237.3L362.25 238.6L362.50 237.0L362.75 236.5L363.00 236.9L363.25 236.5L363.50 236.5L363.75 237.1L364.00 237.2L364.25 236.6L364.50 237.8L364.75 237.0L365.00 237.1L365.25 236.7L365.50 237.2L365.75 237.3L366.00 237.4L366.25 236.4L366.50 237.4L366.75 236.6L367.00 237.0L367.25 237.5L367.50 238.0L367.75 236.6L368.00 236.2L368.25 237.0L368.50 237.7L368.75 236.7L369.00 238.6L369.25 235.6L369.50 237.9L369.75 237.7L370.00 237.6L370.25 236.3L370.50 237.8L370.75 237.7L371.00 237.7L371.25 236.7L371.50 236.7L371.75 237.7L372.00 237.1L372.25 236.6L372.50 236.2L372.75 237.0L373.00 235.9L373.25 237.2L373.50 236.9L373.75 235.7L374.00 237.1L374.25 237.6L374.50 236.9L374.75 235.8L375.00 236.3L375.25 237.3L375.50 235.8L375.75 236.4L376.00 237.5L376.25 236.5L376.50 236.3L376.75 237.2L377.00 237.7L377.25 236.9L377.50 235.7L377.75 235.5L378.00 236.4L378.25 235.3L378.50 236.5L378.75 237.2L379.00 234.7L379.25 236.4L379.50 236.7L379.75 236.1L380.00 236.7L380.25 236.8L380.50 237.2L380.75 238.3L381.00 236.7L381.25 235.8L381.50 235.7L381.75 235.5L382.00 236.8L382.25 236.6L382.50 236.6L382.75 236.4L383.00 237.2L383.25 236.8L383.50 236.6L383.75 235.3L384.00 235.3L384.25 234.3L384.50 234.4L384.75 234.5L385.00 233.0L385.25 232.8L385.50 234.0L385.75 231.9L386.00 230.5L386.25 231.1L386.42 231.1L386.50 231.1L386.75 231.3L387.00 232.5L387.25 232.7L387.50 232.4L387.75 234.5L388.00 234.1L388.25 236.1L388.50 234.9L388.75 235.5L389.00 235.5L389.25 235.9L389.50 236.6L389.75 236.3L390.00 237.3L390.25 236.9L390.50 237.7L390.75 236.8L391.00 237.6L391.25 237.6L391.50 236.7L391.75 238.6L392.00 237.9L392.25 237.3L392.50 236.8L392.75 236.9L393.00 236.9L393.25 237.2L393.50 236.3L393.75 237.1L394.00 236.7L394.25 238.3L394.50 237.7L394.75 238.3L395.00 238.8L395.25 237.5L395.50 238.6L395.75 237.5L396.00 237.7L396.25 236.6L396.50 237.3L396.75 238.3L397.00 237.6L397.25 237.0L397.50 237.3L397.75 236.8L398.00 236.8L398.25 236.3L398.50 238.0L398.75 238.0L399.00 237.1L399.25 236.3L399.50 237.0L399.75 238.5L400.00 236.2L400.25 236.8L400.50 236.8L400.75 237.6L401.00 236.2L401.25 237.2L401.50 236.5L401.75 236.8L402.00 236.2L402.25 237.4L402.50 236.7L402.75 236.6L403.00 237.7L403.25 237.2L403.50 238.5L403.75 237.2L404.00 237.0L404.25 237.0L404.50 238.7L404.75 237.7L405.00 236.6L405.25 237.0L405.50 236.5L405.75 237.2L406.00 236.4L406.25 236.4L406.50 237.0L406.75 237.6L407.00 237.3L407.25 237.2L407.50 236.7L407.75 235.0L408.00 236.5L408.25 236.5L408.50 237.0L408.75 237.8L409.00 237.2L409.25 235.5L409.50 236.7L409.75 236.5L410.00 237.1L410.25 236.6L410.50 235.3L410.75 236.0L411.00 236.4L411.25 235.2L411.50 236.5L411.75 236.4L412.00 237.3L412.25 236.5L412.50 236.2L412.75 236.5L413.00 236.6L413.25 237.3L413.50 235.9L413.75 235.1L414.00 238.5L414.25 237.1L414.50 236.6L414.75 238.2L415.00 235.8L415.25 236.0L415.50 236.3L415.75 236.9L416.00 236.2L416.25 237.1L416.50 236.3L416.75 237.4L417.00 236.8L417.25 235.4L417.50 236.5L417.75 235.7L418.00 236.4L418.25 236.5L418.50 238.0L418.75 236.3L419.00 235.3L419.25 236.5L419.50 235.6L419.75 237.7L420.00 236.9L420.25 237.5L420.50 236.1L420.75 235.6L421.00 236.5L421.25 235.4L421.50 235.6L421.75 235.7L422.00 236.1L422.25 235.1L422.50 234.6L422.75 236.9L423.00 235.4L423.25 235.5L423.50 235.8L423.75 235.4L424.00 234.3L424.25 233.9L424.50 234.7L424.75 233.6L425.00 232.4L425.25 231.9L425.50 228.4L425.75 228.9L426.00 228.2L426.17 228.0L426.25 228.0L426.50 228.9L426.75 229.5L427.00 229.1L427.25 231.2L427.50 232.4L427.75 233.0L428.00 234.0L428.25 234.6L428.50 235.7L428.75 235.1L429.00 236.9L429.25 235.3L429.50 235.4L429.75 235.6L430.00 234.8L430.25 234.3L430.50 235.0L430.75 232.0L431.00 231.5L431.25 233.2L431.50 231.2L431.75 229.8L432.00 228.4L432.25 227.4L432.50 226.6L432.60 226.6L432.75 226.7L433.00 228.2L433.25 229.0L433.50 230.0L433.75 231.3L434.00 232.1L434.25 232.4L434.50 235.2L434.75 235.1L435.00 235.1L435.25 236.0L435.50 236.7L435.75 236.9L436.00 236.7L436.25 237.0L436.50 236.3L436.75 237.5L437.00 237.3L437.25 237.4L437.50 235.9L437.75 237.3L438.00 237.3L438.25 237.5L438.50 235.2L438.75 235.7L439.00 237.2L439.25 236.4L439.50 237.3L439.75 237.0L440.00 237.7L440.25 236.8L440.50 236.4L440.75 237.5L441.00 237.0L441.25 236.4L441.50 235.9L441.75 239.4L442.00 237.0L442.25 237.1L442.50 235.9L442.75 236.6L443.00 237.2L443.25 237.5L443.50 237.8L443.75 236.8L444.00 237.6L444.25 238.1L444.50 236.9L444.75 237.3L445.00 236.1L445.25 236.7L445.50 236.4L445.75 237.8L446.00 237.2L446.25 238.4L446.50 237.5L446.75 237.9L447.00 237.7L447.25 237.5L447.50 236.6L447.75 238.5L448.00 237.3L448.25 236.0L448.50 236.9L448.75 236.5L449.00 238.1L449.25 238.0L449.50 238.3L449.75 238.8L450.00 236.8L450.25 235.9L450.50 236.5L450.75 237.5L451.00 235.3L451.25 236.7L451.50 237.6L451.75 236.4L452.00 236.8L452.25 236.1L452.50 237.8L452.75 237.8L453.00 235.4L453.25 235.2L453.50 235.5L453.75 235.4L454.00 234.7L454.25 234.3L454.50 233.9L454.75 233.5L455.00 232.1L455.25 232.0L455.28 232.0L455.50 232.1L455.75 234.1L456.00 233.7L456.25 234.2L456.50 235.3L456.75 235.8L457.00 237.1L457.25 235.3L457.50 236.4L457.75 237.0L458.00 237.3L458.25 236.6L458.50 235.9L458.75 237.0L459.00 236.7L459.25 237.2L459.50 238.1L459.75 237.9L460.00 236.6L460.25 236.9L460.50 237.6L460.75 238.3L461.00 237.5L461.25 237.7L461.50 236.5L461.75 237.2L462.00 237.0L462.25 237.8L462.50 237.4L462.75 237.0L463.00 236.9L463.25 237.8L463.50 237.2L463.75 238.5L464.00 237.8L464.25 237.5L464.50 238.3L464.75 236.8L465.00 238.3L465.25 237.2L465.50 238.2L465.75 237.2L466.00 237.1L466.25 236.4L466.50 237.8L466.75 238.1L467.00 236.8L467.25 239.0L467.50 237.7L467.75 237.0L468.00 239.1L468.25 237.5L468.50 238.8L468.75 235.8L469.00 239.3L469.25 237.9L469.50 237.8L469.75 238.0L470.00 237.0L470.25 238.4L470.50 238.1L470.75 238.0L471.00 237.4L471.25 237.0L471.50 238.1L471.75 238.4L472.00 237.9L472.25 237.7L472.50 237.5L472.75 238.3L473.00 238.9L473.25 237.7L473.50 237.3L473.75 239.6L474.00 236.8L474.25 238.0L474.50 237.8L474.75 238.8L475.00 237.7L475.25 236.7L475.50 237.0L475.75 237.9L476.00 237.8L476.25 237.4L476.50 237.4L476.75 236.7L477.00 236.8L477.25 237.4L477.50 237.3L477.75 237.7L478.00 237.0L478.25 238.9L478.50 236.6L478.75 238.4L479.00 238.2L479.25 238.9L479.50 238.7L479.75 236.9L480.00 238.0L480.25 238.3L480.50 238.4L480.75 238.1L481.00 237.4L481.25 238.7L481.50 237.7L481.75 237.4L482.00 237.9L482.25 237.4L482.50 237.3L482.75 237.8L483.00 239.6L483.25 238.0L483.50 237.8L483.75 237.4L484.00 238.0L484.25 236.9L484.50 238.1L484.75 237.9L485.00 237.8L485.25 238.0L485.50 237.6L485.75 238.2L486.00 238.1L486.25 238.1L486.50 237.7L486.75 238.3L487.00 237.6L487.25 238.6L487.50 237.6L487.75 238.6L488.00 237.8L488.25 237.6L488.50 237.0L488.75 238.1L489.00 237.9L489.25 237.7L489.50 237.9L489.75 237.7L490.00 237.0L490.25 236.8L490.50 238.1L490.75 237.8L491.00 238.7L491.25 239.0L491.50 238.2L491.75 238.1L492.00 238.0L492.25 237.7L492.50 237.2L492.75 235.8L493.00 238.1L493.25 238.0L493.50 237.6L493.75 237.7L494.00 238.2L494.25 238.2L494.50 237.7L494.75 237.4L495.00 238.0L495.25 238.1L495.50 239.1L495.75 236.9L496.00 237.9L496.25 236.9L496.50 237.2L496.75 239.1L497.00 237.2L497.25 237.4L497.50 237.1L497.75 238.1L498.00 237.2L498.25 236.3L498.50 237.5L498.75 238.0L499.00 237.4L499.25 237.5L499.50 236.9L499.75 236.8L500.00 237.4L500.25 236.6L500.50 237.1L500.75 236.7L501.00 237.2L501.25 237.9L501.50 237.3L501.75 238.1L502.00 237.6L502.25 237.2L502.50 236.7L502.75 237.4L503.00 236.5L503.25 237.8L503.50 236.3L503.75 236.3L504.00 236.7L504.25 236.1L504.50 237.3L504.75 236.7L505.00 236.9L505.25 237.6L505.50 235.7L505.75 237.0L506.00 237.4L506.25 237.9L506.50 237.3L506.75 236.7L507.00 237.8L507.25 237.8L507.50 238.7L507.75 238.6L508.00 237.0L508.25 238.1L508.50 237.2L508.75 236.4L509.00 237.6L509.25 238.0L509.50 235.4L509.75 238.0L510.00 236.5L510.25 238.2L510.50 237.2L510.75 237.1L511.00 238.0L511.25 236.8L511.50 238.4L511.75 236.3L512.00 236.6L512.25 236.2L512.50 237.3L512.75 236.9L513.00 237.5L513.25 237.7L513.50 237.5L513.75 237.7L514.00 237.7L514.25 236.8L514.50 236.4L514.75 236.2L515.00 237.4L515.25 236.5L515.50 236.2L515.75 236.3L516.00 236.8L516.25 237.1L516.50 236.8L516.75 236.3L517.00 237.4L517.25 235.5L517.50 236.8L517.75 237.7L518.00 237.2L518.25 237.9L518.50 237.1L518.75 237.5L519.00 237.1L519.25 236.8L519.50 237.4L519.75 237.8L520.00 235.8L520.25 236.6L520.50 235.7L520.75 236.5L521.00 236.3L521.25 236.9L521.50 237.0L521.75 237.9L522.00 238.1L522.25 236.7L522.50 236.9L522.75 237.7L523.00 236.9L523.25 237.1L523.50 236.1L523.75 237.9L524.00 237.6L524.25 236.7L524.50 236.5L524.75 236.7L525.00 237.7L525.25 237.1L525.50 236.6L525.75 237.3L526.00 238.1L526.25 238.4L526.50 238.5L526.75 237.7L527.00 237.8L527.25 237.8L527.50 238.1L527.75 238.0L528.00 237.0L528.25 237.2L528.50 237.4L528.75 238.2L529.00 237.4L529.25 237.2L529.50 238.5L529.75 238.8L530.00 237.2L530.25 237.7L530.50 238.6L530.75 237.6L531.00 238.5L531.25 236.9L531.50 237.7L531.75 238.3L532.00 239.0L532.25 238.6"/>
<path d="M50.00 313.6L50.25 313.6L50.50 314.0L50.75 315.1L51.00 315.0L51.25 315.2L51.50 315.0L51.75 314.2L52.00 314.4L52.25 314.0L52.50 315.1L52.75 313.8L53.00 314.6L53.25 314.7L53.50 315.3L53.75 314.1L54.00 314.8L54.25 314.0L54.50 315.2L54.75 314.4L55.00 314.4L55.25 314.0L55.50 314.2L55.75 314.2L56.00 314.2L56.25 315.3L56.50 314.0L56.75 314.7L57.00 315.1L57.25 313.9L57.50 313.3L57.75 314.9L58.00 313.6L58.25 314.1L58.50 314.5L58.75 314.8L59.00 314.4L59.25 314.2L59.50 315.2L59.75 314.7L60.00 315.8L60.25 314.0L60.50 314.5L60.75 314.6L61.00 314.9L61.25 314.7L61.50 314.6L61.75 315.8L62.00 314.5L62.25 314.9L62.50 314.7L62.75 314.2L63.00 315.1L63.25 313.5L63.50 315.3L63.75 313.7L64.00 314.4L64.25 314.7L64.50 314.3L64.75 314.3L65.00 315.3L65.25 316.1L65.50 315.2L65.75 314.7L66.00 314.2L66.25 314.1L66.50 315.4L66.75 315.2L67.00 315.4L67.25 315.2L67.50 315.4L67.75 314.3L68.00 314.1L68.25 314.0L68.50 314.6L68.75 314.5L69.00 314.7L69.25 313.9L69.50 314.7L69.75 315.1L70.00 314.7L70.25 313.0L70.50 314.6L70.75 314.4L71.00 315.2L71.25 314.5L71.50 315.0L71.75 314.4L72.00 314.8L72.25 315.2L72.50 314.5L72.75 314.8L73.00 314.7L73.25 315.0L73.50 314.6L73.75 314.9L74.00 313.5L74.25 314.5L74.50 315.1L74.75 315.0L75.00 314.0L75.25 314.1L75.50 314.9L75.75 314.8L76.00 314.9L76.25 314.7L76.50 314.7L76.75 315.3L77.00 314.1L77.25 313.8L77.50 315.2L77.75 314.2L78.00 315.0L78.25 314.2L78.50 314.0L78.75 315.6L79.00 314.6L79.25 313.8L79.50 314.5L79.75 314.5L80.00 314.5L80.25 314.7L80.50 313.9L80.75 314.4L81.00 314.9L81.25 315.0L81.50 314.7L81.75 314.1L82.00 313.4L82.25 315.5L82.50 313.9L82.75 314.3L83.00 314.6L83.25 314.8L83.50 314.5L83.75 314.1L84.00 314.5L84.25 315.8L84.50 316.1L84.75 314.4L85.00 314.9L85.25 313.5L85.50 314.7L85.75 315.0L86.00 314.3L86.25 315.6L86.50 315.0L86.75 314.9L87.00 312.9L87.25 314.1L87.50 314.9L87.75 314.2L88.00 313.4L88.25 314.1L88.50 315.4L88.75 314.9L89.00 315.0L89.25 314.6L89.50 315.4L89.75 312.8L90.00 313.7L90.25 315.6L90.50 315.1L90.75 314.6L91.00 314.2L91.25 313.3L91.50 314.2L91.75 314.3L92.00 313.9L92.25 315.2L92.50 315.0L92.75 314.2L93.00 314.9L93.25 314.4L93.50 314.5L93.75 314.1L94.00 315.9L94.25 313.5L94.50 314.3L94.75 315.0L95.00 315.0L95.25 313.4L95.50 313.8L95.75 314.3L96.00 313.8L96.25 313.9L96.50 314.2L96.75 314.2L97.00 315.0L97.25 313.3L97.50 314.9L97.75 314.1L98.00 314.6L98.25 314.1L98.50 315.7L98.75 313.2L99.00 315.0L99.25 314.0L99.50 314.1L99.75 315.1L100.00 314.1L100.25 314.7L100.50 315.1L100.75 313.8L101.00 315.4L101.25 314.9L101.50 314.0L101.75 314.2L102.00 313.6L102.25 314.2L102.50 314.5L102.75 314.5L103.00 313.9L103.25 313.4L103.50 313.2L103.75 312.8L104.00 313.1L104.25 313.4L104.50 312.4L104.75 312.1L105.00 311.5L105.25 312.1L105.50 311.1L105.75 309.7L106.00 310.7L106.25 309.8L106.50 308.2L106.75 306.7L107.00 305.5L107.25 303.4L107.50 302.7L107.75 300.7L108.00 297.1L108.25 290.5L108.50 279.4L108.75 266.0L108.88 263.5L109.00 266.5L109.25 280.9L109.50 292.7L109.75 299.3L110.00 304.0L110.25 306.7L110.50 307.0L110.75 309.4L111.00 310.1L111.25 310.7L111.50 311.8L111.75 311.1L112.00 312.9L112.25 312.0L112.50 312.9L112.75 311.9L113.00 313.6L113.25 313.2L113.50 313.1L113.75 312.9L114.00 313.8L114.25 314.5L114.50 314.1L114.75 313.7L115.00 313.5L115.25 313.3L115.50 313.8L115.75 313.1L116.00 313.8L116.25 314.7L116.50 314.0L116.75 314.0L117.00 313.7L117.25 314.5L117.50 314.5L117.75 315.0L118.00 313.7L118.25 313.4L118.50 313.7L118.75 313.4L119.00 314.1L119.25 313.8L119.50 313.6L119.75 314.0L120.00 314.7L120.25 314.5L120.50 313.7L120.75 314.0L121.00 314.2L121.25 314.2L121.50 313.5L121.75 312.7L122.00 313.4L122.25 312.3L122.50 312.3L122.75 311.8L123.00 311.8L123.25 310.3L123.50 310.0L123.67 309.9L123.75 310.0L124.00 310.8L124.25 310.6L124.50 311.7L124.75 312.1L125.00 311.1L125.25 311.5L125.50 310.7L125.75 312.8L126.00 312.7L126.25 312.2L126.50 312.1L126.75 312.0L127.00 312.2L127.13 312.2L127.25 312.2L127.50 311.8L127.75 313.3L128.00 313.3L128.25 312.6L128.50 314.2L128.75 314.5L129.00 313.8L129.25 313.8L129.50 312.8L129.75 312.9L130.00 312.2L130.25 312.9L130.50 313.8L130.75 313.0L131.00 312.2L131.25 314.2L131.50 314.5L131.75 314.2L132.00 312.4L132.25 313.8L132.50 312.9L132.75 313.3L133.00 313.8L133.25 314.3L133.50 313.1L133.75 313.2L134.00 312.7L134.25 313.5L134.50 312.9L134.75 313.2L135.00 314.0L135.25 313.5L135.50 313.6L135.75 313.7L136.00 314.1L136.25 314.4L136.50 312.9L136.75 312.7L137.00 314.0L137.25 314.1L137.50 314.5L137.75 314.2L138.00 314.8L138.25 314.0L138.50 313.4L138.75 314.4L139.00 313.3L139.25 313.4L139.50 314.1L139.75 313.7L140.00 314.4L140.25 313.6L140.50 315.0L140.75 313.3L141.00 314.3L141.25 313.7L141.50 314.8L141.75 313.6L142.00 314.4L142.25 312.1L142.50 313.6L142.75 315.0L143.00 314.2L143.25 314.1L143.50 314.6L143.75 315.6L144.00 313.5L144.25 314.1L144.50 313.9L144.75 314.6L145.00 313.8L145.25 313.2L145.50 313.3L145.75 314.6L146.00 314.3L146.25 314.7L146.50 313.2L146.75 313.6L147.00 313.9L147.25 314.7L147.50 314.4L147.75 314.1L148.00 313.6L148.25 314.3L148.50 313.9L148.75 314.7L149.00 315.2L149.25 314.2L149.50 313.5L149.75 315.6L150.00 314.6L150.25 314.5L150.50 314.2L150.75 314.3L151.00 314.2L151.25 314.3L151.50 313.3L151.75 313.7L152.00 314.1L152.25 314.3L152.50 314.3L152.75 314.4L153.00 313.1L153.25 313.6L153.50 313.8L153.75 314.2L154.00 314.0L154.25 315.3L154.50 313.9L154.75 314.0L155.00 313.2L155.25 315.2L155.50 314.2L155.75 314.1L156.00 313.8L156.25 314.2L156.50 313.9L156.75 314.9L157.00 313.7L157.25 313.9L157.50 313.8L157.75 314.5L158.00 314.3L158.25 314.7L158.50 314.5L158.75 314.5L159.00 314.2L159.25 314.7L159.50 314.4L159.75 314.3L160.00 313.2L160.25 313.8L160.50 313.7L160.75 313.0L161.00 314.9L161.25 315.0L161.50 314.8L161.75 314.5L162.00 315.0L162.25 313.1L162.50 314.9L162.75 312.9L163.00 314.2L163.25 314.2L163.50 314.4L163.75 314.5L164.00 314.5L164.25 313.7L164.50 313.7L164.75 313.6L165.00 314.2L165.25 313.9L165.50 313.1L165.75 314.7L166.00 313.4L166.25 313.8L166.50 313.6L166.75 313.6L167.00 314.4L167.25 313.7L167.50 313.2L167.75 313.7L168.00 313.5L168.25 313.1L168.50 314.6L168.75 314.8L169.00 313.2L169.25 315.0L169.50 315.2L169.75 313.2L170.00 314.3L170.25 313.9L170.50 314.6L170.75 312.3L171.00 314.4L171.25 313.8L171.50 314.3L171.75 314.6L172.00 312.6L172.25 314.0L172.50 314.0L172.75 314.4L173.00 314.7L173.25 314.5L173.50 313.6L173.75 314.5L174.00 313.6L174.25 314.5L174.50 313.9L174.75 313.9L175.00 314.1L175.25 313.1L175.50 313.9L175.75 313.3L176.00 314.6L176.25 314.8L176.50 313.2L176.75 312.7L177.00 314.2L177.25 313.7L177.50 313.5L177.75 315.5L178.00 313.8L178.25 313.5L178.50 313.9L178.75 314.3L179.00 315.0L179.25 314.3L179.50 313.3L179.75 313.8L180.00 315.2L180.25 313.1L180.50 314.1L180.75 314.8L181.00 314.3L181.25 314.0L181.50 313.6L181.75 314.2L182.00 314.4L182.25 314.3L182.50 314.7L182.75 314.3L183.00 314.9L183.25 314.2L183.50 314.7L183.75 313.9L184.00 315.2L184.25 314.9L184.50 314.6L184.75 313.6L185.00 314.3L185.25 312.4L185.50 313.9L185.75 314.3L186.00 313.6L186.25 314.3L186.50 314.6L186.75 315.3L187.00 314.2L187.25 313.2L187.50 312.8L187.75 314.1L188.00 314.7L188.25 314.9L188.50 314.3L188.75 313.8L189.00 313.8L189.25 314.1L189.50 314.3L189.75 314.6L190.00 314.3L190.25 315.4L190.50 314.3L190.75 314.5L191.00 314.9L191.25 314.8L191.50 313.8L191.75 313.3L192.00 313.5L192.25 314.5L192.50 314.6L192.75 314.4L193.00 314.7L193.25 315.0L193.50 313.8L193.75 315.8L194.00 315.9L194.25 314.7L194.50 314.2L194.75 314.4L195.00 313.4L195.25 314.3L195.50 313.8L195.75 314.2L196.00 314.1L196.25 315.5L196.50 313.8L196.75 314.5L197.00 314.0L197.25 315.2L197.50 314.9L197.75 313.4L198.00 313.7L198.25 314.5L198.50 313.9L198.75 314.6L199.00 314.4L199.25 313.7L199.50 314.1L199.75 314.6L200.00 314.3L200.25 314.4L200.50 314.5L200.75 314.3L201.00 315.1L201.25 313.6L201.50 314.6L201.75 314.0L202.00 314.6L202.25 314.9L202.50 314.7L202.75 314.8L203.00 314.8L203.25 314.7L203.50 314.2L203.75 314.8L204.00 314.9L204.25 314.9L204.50 314.5L204.75 314.5L205.00 313.2L205.25 313.9L205.50 314.3L205.75 315.0L206.00 315.1L206.25 314.5L206.50 313.7L206.75 314.7L207.00 315.0L207.25 314.8L207.50 314.0L207.75 313.7L208.00 313.9L208.25 313.7L208.50 315.0L208.75 314.6L209.00 315.7L209.25 315.4L209.50 315.0L209.75 314.0L210.00 314.8L210.25 314.7L210.50 313.6L210.75 313.7L211.00 314.0L211.25 315.2L211.50 314.2L211.75 313.6L212.00 314.5L212.25 314.8L212.50 313.7L212.75 315.6L213.00 314.0L213.25 315.1L213.50 314.8L213.75 314.0L214.00 314.4L214.25 314.5L214.50 314.2L214.75 314.9L215.00 314.5L215.25 313.4L215.50 314.5L215.75 313.8L216.00 314.3L216.25 314.6L216.50 314.4L216.75 315.1L217.00 314.4L217.25 314.1L217.50 315.4L217.75 314.9L218.00 314.3L218.25 314.4L218.50 314.1L218.75 314.4L219.00 313.8L219.25 315.4L219.50 315.1L219.75 313.0L220.00 313.7L220.25 314.3L220.50 313.9L220.75 313.0L221.00 314.7L221.25 313.5L221.50 314.6L221.75 314.5L222.00 315.1L222.25 313.6L222.50 315.3L222.75 313.4L223.00 315.0L223.25 314.8L223.50 314.4L223.75 313.4L224.00 315.1L224.25 314.6L224.50 313.1L224.75 312.5L225.00 313.6L225.25 313.5L225.50 314.4L225.75 314.1L226.00 314.2L226.25 313.6L226.50 314.5L226.75 313.6L227.00 313.0L227.25 312.4L227.50 314.2L227.75 313.4L228.00 312.7L228.25 313.2L228.50 313.5L228.75 314.1L229.00 312.3L229.25 313.3L229.50 313.9L229.75 313.7L230.00 313.8L230.25 314.4L230.50 312.6L230.75 312.6L231.00 313.5L231.25 313.6L231.50 312.6L231.75 312.0L232.00 311.1L232.25 311.8L232.50 311.2L232.75 309.8L233.00 309.5L233.25 308.4L233.50 308.3L233.75 306.6L234.00 305.7L234.25 303.3L234.50 299.3L234.75 295.8L235.00 291.8L235.13 291.4L235.25 292.0L235.50 296.0L235.75 301.2L236.00 304.2L236.25 306.2L236.50 308.4L236.75 310.8L237.00 309.9L237.25 310.4L237.50 311.7L237.75 311.3L238.00 310.8L238.25 311.0L238.50 312.2L238.75 312.0L239.00 313.4L239.25 312.2L239.50 311.8L239.75 312.3L240.00 312.0L240.25 313.6L240.50 312.4L240.75 313.8L241.00 313.3L241.25 314.2L241.50 312.9L241.75 313.5L242.00 311.8L242.25 312.8L242.50 312.6L242.75 313.7L243.00 313.0L243.25 313.4L243.50 312.5L243.75 312.1L244.00 312.8L244.25 313.5L244.50 312.5L244.75 313.3L245.00 312.0L245.25 311.7L245.50 311.4L245.75 311.1L246.00 310.6L246.25 310.9L246.40 310.8L246.50 310.9L246.75 312.0L247.00 311.9L247.25 311.5L247.50 311.6L247.75 311.3L248.00 312.9L248.25 312.4L248.50 314.2L248.75 312.1L249.00 313.5L249.25 314.1L249.50 313.1L249.75 314.8L250.00 314.2L250.25 314.2L250.50 313.1L250.75 314.3L251.00 314.4L251.25 313.9L251.50 314.9L251.75 314.0L252.00 312.5L252.25 314.1L252.50 315.0L252.75 313.6L253.00 314.4L253.25 313.6L253.50 314.0L253.75 312.4L254.00 312.9L254.25 313.9L254.50 313.7L254.75 312.9L255.00 314.5L255.25 314.3L255.50 313.6L255.75 312.9L256.00 314.5L256.25 313.9L256.50 314.6L256.75 314.9L257.00 314.0L257.25 314.1L257.50 314.7L257.75 314.1L258.00 313.1L258.25 314.7L258.50 314.5L258.75 314.0L259.00 314.7L259.25 314.1L259.50 314.1L259.75 314.9L260.00 313.6L260.25 313.4L260.50 314.3L260.75 313.6L261.00 315.0L261.25 314.0L261.50 313.4L261.75 314.2L262.00 313.1L262.25 315.3L262.50 314.4L262.75 314.8L263.00 314.7L263.25 314.5L263.50 313.8L263.75 314.9L264.00 314.2L264.25 313.9L264.50 313.2L264.75 315.2L265.00 314.3L265.25 314.1L265.50 313.2L265.75 315.0L266.00 314.3L266.25 315.0L266.50 314.3L266.75 313.8L267.00 314.7L267.25 313.4L267.50 313.4L267.75 314.3L268.00 314.8L268.25 315.0L268.50 314.3L268.75 314.3L269.00 314.5L269.25 314.2L269.50 314.0L269.75 314.6L270.00 314.0L270.25 314.2L270.50 315.0L270.75 314.4L271.00 314.0L271.25 314.7L271.50 314.2L271.75 314.7L272.00 313.7L272.25 313.8L272.50 313.4L272.75 314.9L273.00 315.1L273.25 315.0L273.50 314.5L273.75 314.4L274.00 314.1L274.25 314.6L274.50 314.1L274.75 313.6L275.00 314.8L275.25 314.7L275.50 314.5L275.75 314.1L276.00 313.9L276.25 314.2L276.50 314.3L276.75 313.5L277.00 313.9L277.25 313.5L277.50 314.8L277.75 313.3L278.00 313.4L278.25 313.6L278.50 314.2L278.75 313.5L279.00 315.1L279.25 314.5L279.50 312.6L279.75 314.2L280.00 314.2L280.25 313.2L280.50 313.9L280.75 314.0L281.00 313.5L281.25 313.8L281.50 314.1L281.75 313.5L282.00 313.7L282.25 313.0L282.50 314.0L282.75 313.1L283.00 314.1L283.25 314.5L283.50 314.1L283.75 312.6L284.00 312.9L284.25 312.3L284.50 312.4L284.75 311.3L285.00 310.7L285.25 310.8L285.50 309.7L285.75 310.2L286.00 309.0L286.25 307.6L286.50 306.0L286.75 304.3L287.00 303.0L287.25 299.9L287.50 296.4L287.75 292.4L288.00 284.2L288.25 274.9L288.50 267.2L288.65 265.7L288.75 266.8L289.00 274.7L289.25 285.9L289.50 294.3L289.75 300.2L290.00 302.6L290.25 305.9L290.50 307.0L290.75 308.8L291.00 308.6L291.25 310.2L291.50 311.5L291.75 311.5L292.00 310.4L292.25 312.8L292.50 312.8L292.75 312.7L293.00 313.1L293.25 313.1L293.50 314.1L293.75 313.5L294.00 312.7L294.25 313.3L294.50 314.9L294.75 314.6L295.00 314.5L295.25 313.6L295.50 314.4L295.75 314.8L296.00 314.2L296.25 314.6L296.50 314.9L296.75 314.9L297.00 314.5L297.25 314.6L297.50 313.5L297.75 314.1L298.00 314.8L298.25 315.4L298.50 314.4L298.75 315.0L299.00 314.4L299.25 313.8L299.50 314.6L299.75 314.7L300.00 313.8L300.25 313.9L300.50 314.4L300.75 314.1L301.00 314.7L301.25 313.6L301.50 314.9L301.75 314.0L302.00 314.6L302.25 313.5L302.50 315.0L302.75 314.6L303.00 315.7L303.25 313.4L303.50 313.3L303.75 314.9L304.00 315.0L304.25 313.4L304.50 314.8L304.75 315.0L305.00 315.3L305.25 314.5L305.50 313.5L305.75 313.3L306.00 315.7L306.25 314.7L306.50 315.1L306.75 314.3L307.00 314.3L307.25 314.3L307.50 313.9L307.75 314.3L308.00 313.8L308.25 314.2L308.50 315.1L308.75 314.5L309.00 314.0L309.25 315.5L309.50 315.2L309.75 314.5L310.00 313.4L310.25 315.2L310.50 315.2L310.75 314.0L311.00 315.2L311.25 313.9L311.50 314.2L311.75 314.1L312.00 314.4L312.25 314.2L312.50 315.1L312.75 314.0L313.00 314.4L313.25 314.1L313.50 314.2L313.75 313.4L314.00 313.8L314.25 314.5L314.50 314.0L314.75 312.5L315.00 312.7L315.25 311.9L315.50 311.7L315.75 311.2L316.00 310.4L316.25 310.9L316.50 310.7L316.75 309.9L317.00 309.8L317.00 309.8L317.25 309.9L317.50 310.8L317.75 312.1L318.00 309.5L318.25 311.9L318.50 312.2L318.75 312.7L319.00 312.8L319.25 312.3L319.50 313.5L319.75 313.5L320.00 313.8L320.25 314.0L320.50 313.8L320.75 315.6L321.00 313.5L321.25 314.1L321.50 313.6L321.75 314.3L322.00 315.4L322.25 314.4L322.50 314.0L322.75 313.7L323.00 314.8L323.25 314.1L323.50 314.9L323.75 314.1L324.00 314.2L324.25 314.5L324.50 313.6L324.75 315.3L325.00 313.9L325.25 314.7L325.50 314.9L325.75 316.1L326.00 314.9L326.25 315.2L326.50 314.3L326.75 314.6L327.00 314.7L327.25 315.3L327.50 314.1L327.75 314.9L328.00 316.4L328.25 314.1L328.50 313.6L328.75 314.4L329.00 314.6L329.25 315.7L329.50 315.0L329.75 315.4L330.00 314.3L330.25 314.7L330.50 314.9L330.75 314.2L331.00 314.9L331.25 314.6L331.50 314.9L331.75 313.9L332.00 313.5L332.25 315.6L332.50 314.8L332.75 314.7L333.00 316.3L333.25 315.4L333.50 315.1L333.75 314.4L334.00 315.0L334.25 314.9L334.50 314.7L334.75 315.7L335.00 315.3L335.25 315.2L335.50 314.3L335.75 314.4L336.00 315.5L336.25 315.0L336.50 314.5L336.75 315.0L337.00 314.9L337.25 314.6L337.50 314.7L337.75 315.3L338.00 315.0L338.25 314.3L338.50 314.4L338.75 315.0L339.00 314.2L339.25 314.9L339.50 314.8L339.75 314.1L340.00 313.4L340.25 314.3L340.50 314.8L340.75 314.8L341.00 315.6L341.25 314.8L341.50 314.8L341.75 315.0L342.00 314.6L342.25 315.9L342.50 314.5L342.75 314.3L343.00 314.5L343.25 315.5L343.50 314.5L343.75 314.4L344.00 315.2L344.25 315.5L344.50 314.6L344.75 315.2L345.00 314.4L345.25 315.6L345.50 314.2L345.75 314.6L346.00 314.5L346.25 314.2L346.50 314.7L346.75 315.2L347.00 314.3L347.25 315.9L347.50 314.9L347.75 315.0L348.00 314.3L348.25 314.7L348.50 315.3L348.75 314.2L349.00 314.4L349.25 314.3L349.50 314.0L349.75 315.2L350.00 314.3L350.25 315.8L350.50 314.0L350.75 314.6L351.00 314.8L351.25 314.2L351.50 313.5L351.75 314.4L352.00 314.7L352.25 314.2L352.50 314.9L352.75 313.6L353.00 314.9L353.25 316.0L353.50 315.3L353.75 315.4L354.00 314.5L354.25 314.5L354.50 315.4L354.75 314.6L355.00 315.1L355.25 314.2L355.50 315.0L355.75 314.9L356.00 313.4L356.25 314.7L356.50 315.1L356.75 315.1L357.00 315.0L357.25 315.5L357.50 314.7L357.75 314.3L358.00 315.3L358.25 316.0L358.50 314.5L358.75 315.6L359.00 314.6L359.25 313.8L359.50 314.2L359.75 314.2L360.00 315.4L360.25 314.8L360.50 314.4L360.75 314.8L361.00 315.6L361.25 314.7L361.50 314.3L361.75 314.9L362.00 314.2L362.25 315.0L362.50 315.3L362.75 314.8L363.00 314.5L363.25 314.8L363.50 313.9L363.75 315.7L364.00 316.1L364.25 314.7L364.50 313.5L364.75 314.3L365.00 313.8L365.25 313.6L365.50 314.6L365.75 314.6L366.00 314.3L366.25 315.4L366.50 314.7L366.75 314.1L367.00 314.9L367.25 313.9L367.50 314.5L367.75 314.2L368.00 314.9L368.25 314.5L368.50 314.3L368.75 314.8L369.00 315.0L369.25 314.8L369.50 315.3L369.75 314.0L370.00 314.9L370.25 315.7L370.50 314.7L370.75 313.3L371.00 315.2L371.25 314.5L371.50 315.0L371.75 314.8L372.00 315.0L372.25 315.4L372.50 314.7L372.75 315.1L373.00 313.9L373.25 314.1L373.50 314.6L373.75 315.6L374.00 314.1L374.25 314.4L374.50 315.0L374.75 314.3L375.00 313.8L375.25 313.4L375.50 315.1L375.75 313.9L376.00 314.8L376.25 314.9L376.50 314.0L376.75 314.9L377.00 313.3L377.25 314.5L377.50 313.9L377.75 314.7L378.00 314.7L378.25 314.7L378.50 314.9L378.75 314.1L379.00 313.7L379.25 313.8L379.50 315.1L379.75 313.9L380.00 314.3L380.25 314.7L380.50 314.3L380.75 313.8L381.00 313.1L381.25 314.9L381.50 314.0L381.75 313.3L382.00 313.9L382.25 314.3L382.50 313.0L382.75 314.2L383.00 314.0L383.25 314.2L383.50 313.8L383.75 313.0L384.00 312.3L384.25 312.9L384.50 312.3L384.75 313.1L385.00 311.5L385.25 311.3L385.50 310.4L385.75 308.7L386.00 309.6L386.25 308.9L386.42 308.8L386.50 308.8L386.75 309.8L387.00 309.4L387.25 310.0L387.50 310.4L387.75 311.2L388.00 312.6L388.25 312.5L388.50 313.1L388.75 313.6L389.00 311.7L389.25 313.8L389.50 314.2L389.75 314.1L390.00 313.1L390.25 313.6L390.50 314.6L390.75 314.5L391.00 314.5L391.25 313.6L391.50 314.5L391.75 315.2L392.00 314.4L392.25 315.2L392.50 314.9L392.75 314.9L393.00 314.0L393.25 314.0L393.50 314.0L393.75 315.1L394.00 315.2L394.25 313.8L394.50 313.7L394.75 314.5L395.00 315.3L395.25 314.6L395.50 314.9L395.75 314.8L396.00 314.8L396.25 314.4L396.50 314.8L396.75 314.9L397.00 314.4L397.25 315.5L397.50 313.9L397.75 314.3L398.00 314.0L398.25 315.1L398.50 315.2L398.75 314.1L399.00 314.6L399.25 314.2L399.50 313.7L399.75 314.0L400.00 314.7L400.25 314.8L400.50 314.1L400.75 314.5L401.00 315.0L401.25 315.3L401.50 314.7L401.75 314.0L402.00 313.6L402.25 314.6L402.50 314.3L402.75 314.2L403.00 314.1L403.25 314.2L403.50 314.6L403.75 314.9L404.00 314.0L404.25 315.6L404.50 315.4L404.75 314.4L405.00 314.7L405.25 315.4L405.50 314.0L405.75 314.2L406.00 314.2L406.25 313.9L406.50 315.0L406.75 314.4L407.00 314.6L407.25 314.6L407.50 314.4L407.75 315.4L408.00 314.4L408.25 314.0L408.50 313.7L408.75 314.1L409.00 314.6L409.25 314.6L409.50 314.7L409.75 314.3L410.00 314.8L410.25 314.8L410.50 313.8L410.75 314.8L411.00 314.8L411.25 314.4L411.50 315.2L411.75 314.6L412.00 314.1L412.25 315.1L412.50 315.6L412.75 313.8L413.00 314.5L413.25 315.0L413.50 314.9L413.75 315.1L414.00 315.3L414.25 313.4L414.50 314.9L414.75 313.5L415.00 313.9L415.25 313.8L415.50 314.8L415.75 313.5L416.00 314.5L416.25 313.6L416.50 315.7L416.75 314.1L417.00 314.4L417.25 313.7L417.50 314.1L417.75 315.2L418.00 314.6L418.25 313.7L418.50 314.1L418.75 314.3L419.00 315.4L419.25 314.3L419.50 314.6L419.75 315.0L420.00 315.7L420.25 314.7L420.50 313.6L420.75 313.6L421.00 315.2L421.25 314.4L421.50 313.0L421.75 313.8L422.00 313.7L422.25 313.7L422.50 314.2L422.75 314.2L423.00 314.4L423.25 312.3L423.50 313.4L423.75 312.8L424.00 311.9L424.25 312.5L424.50 310.6L424.75 309.7L425.00 310.6L425.25 308.8L425.50 308.0L425.75 307.3L426.00 305.9L426.17 305.8L426.25 305.8L426.50 306.5L426.75 307.5L427.00 308.4L427.25 308.8L427.50 309.9L427.75 310.8L428.00 312.0L428.25 310.6L428.50 313.1L428.75 311.9L429.00 313.9L429.25 312.9L429.50 313.7L429.75 312.3L430.00 313.3L430.25 312.1L430.50 311.6L430.75 310.9L431.00 308.2L431.25 307.6L431.50 306.2L431.75 305.8L432.00 304.2L432.25 303.7L432.50 302.5L432.60 302.5L432.75 302.6L433.00 303.6L433.25 304.4L433.50 305.4L433.75 306.5L434.00 308.9L434.25 309.5L434.50 310.7L434.75 311.2L435.00 311.7L435.25 314.5L435.50 313.1L435.75 312.5L436.00 313.4L436.25 313.7L436.50 312.9L436.75 314.5L437.00 313.4L437.25 314.3L437.50 313.8L437.75 313.6L438.00 316.1L438.25 313.8L438.50 313.3L438.75 313.9L439.00 313.7L439.25 315.0L439.50 314.6L439.75 313.6L440.00 315.4L440.25 314.2L440.50 313.6L440.75 315.1L441.00 314.8L441.25 313.8L441.50 313.7L441.75 314.3L442.00 314.0L442.25 314.8L442.50 314.6L442.75 313.7L443.00 313.8L443.25 314.3L443.50 315.3L443.75 314.1L444.00 314.9L444.25 314.1L444.50 314.8L444.75 314.2L445.00 314.8L445.25 314.0L445.50 314.1L445.75 315.7L446.00 315.1L446.25 313.7L446.50 315.2L446.75 314.4L447.00 315.3L447.25 313.7L447.50 314.4L447.75 314.2L448.00 314.1L448.25 313.8L448.50 315.7L448.75 314.5L449.00 314.3L449.25 313.5L449.50 315.1L449.75 315.1L450.00 314.3L450.25 313.6L450.50 314.7L450.75 314.4L451.00 313.5L451.25 315.6L451.50 314.7L451.75 313.6L452.00 313.7L452.25 314.5L452.50 314.7L452.75 314.2L453.00 313.9L453.25 313.1L453.50 314.3L453.75 312.5L454.00 312.4L454.25 312.0L454.50 311.2L454.75 311.4L455.00 310.6L455.25 310.5L455.28 310.5L455.50 310.5L455.75 311.7L456.00 310.9L456.25 312.1L456.50 312.3L456.75 312.7L457.00 312.6L457.25 313.9L457.50 314.3L457.75 314.8L458.00 314.1L458.25 314.2L458.50 314.9L458.75 316.3L459.00 314.2L459.25 314.3L459.50 315.5L459.75 313.8L460.00 313.0L460.25 315.1L460.50 315.4L460.75 315.4L461.00 315.2L461.25 315.3L461.50 314.2L461.75 315.3L462.00 314.0L462.25 313.7L462.50 314.5L462.75 313.9L463.00 314.0L463.25 314.3L463.50 314.4L463.75 314.8L464.00 314.1L464.25 314.3L464.50 314.6L464.75 314.8L465.00 315.0L465.25 315.2L465.50 314.8L465.75 315.0L466.00 315.1L466.25 314.7L466.50 314.8L466.75 314.2L467.00 314.9L467.25 315.3L467.50 314.3L467.75 315.5L468.00 314.4L468.25 315.4L468.50 315.7L468.75 314.9L469.00 314.5L469.25 315.0L469.50 314.5L469.75 314.2L470.00 315.4L470.25 313.6L470.50 315.3L470.75 314.3L471.00 315.3L471.25 314.4L471.50 315.9L471.75 314.4L472.00 313.4L472.25 316.5L472.50 314.8L472.75 314.7L473.00 314.7L473.25 314.6L473.50 314.9L473.75 314.3L474.00 316.1L474.25 314.3L474.50 315.2L474.75 315.6L475.00 314.6L475.25 315.3L475.50 314.4L475.75 314.2L476.00 314.3L476.25 315.4L476.50 315.4L476.75 314.2L477.00 315.4L477.25 314.2L477.50 314.9L477.75 315.2L478.00 313.5L478.25 315.1L478.50 314.6L478.75 313.9L479.00 315.2L479.25 314.9L479.50 315.0L479.75 314.6L480.00 314.4L480.25 314.0L480.50 314.6L480.75 314.1L481.00 314.5L481.25 315.0L481.50 315.3L481.75 315.0L482.00 314.9L482.25 314.6L482.50 315.3L482.75 315.5L483.00 314.5L483.25 314.5L483.50 314.2L483.75 314.6L484.00 314.5L484.25 316.0L484.50 315.6L484.75 314.0L485.00 315.3L485.25 314.6L485.50 313.7L485.75 314.9L486.00 314.4L486.25 315.0L486.50 315.1L486.75 314.4L487.00 315.7L487.25 314.9L487.50 314.3L487.75 313.8L488.00 316.1L488.25 314.3L488.50 314.8L488.75 315.0L489.00 315.3L489.25 314.0L489.50 313.3L489.75 314.9L490.00 313.9L490.25 314.6L490.50 316.0L490.75 314.4L491.00 315.2L491.25 314.1L491.50 316.6L491.75 314.6L492.00 315.0L492.25 314.7L492.50 314.4L492.75 315.4L493.00 314.7L493.25 314.2L493.50 314.5L493.75 314.6L494.00 314.8L494.25 314.9L494.50 314.3L494.75 314.5L495.00 316.0L495.25 314.6L495.50 315.6L495.75 314.5L496.00 315.0L496.25 314.4L496.50 313.6L496.75 314.4L497.00 315.3L497.25 315.5L497.50 315.4L497.75 314.4L498.00 314.6L498.25 314.1L498.50 314.9L498.75 315.3L499.00 314.9L499.25 314.3L499.50 315.0L499.75 314.8L500.00 315.1L500.25 314.7L500.50 314.9L500.75 314.3L501.00 314.3L501.25 313.2L501.50 314.9L501.75 314.9L502.00 314.2L502.25 315.7L502.50 315.5L502.75 315.8L503.00 314.7L503.25 314.6L503.50 315.0L503.75 315.4L504.00 315.7L504.25 314.2L504.50 314.7L504.75 313.6L505.00 314.6L505.25 315.3L505.50 315.2L505.75 316.2L506.00 315.2L506.25 314.5L506.50 314.3L506.75 314.9L507.00 315.7L507.25 313.9L507.50 314.1L507.75 314.7L508.00 314.4L508.25 315.2L508.50 314.3L508.75 314.6L509.00 314.6L509.25 314.7L509.50 315.4L509.75 313.7L510.00 313.4L510.25 313.6L510.50 314.3L510.75 314.5L511.00 314.8L511.25 314.6L511.50 314.5L511.75 313.3L512.00 314.0L512.25 314.6L512.50 313.6L512.75 314.0L513.00 314.0L513.25 314.6L513.50 313.7L513.75 313.2L514.00 314.0L514.25 314.1L514.50 314.7L514.75 313.8L515.00 314.0L515.25 313.9L515.50 313.9L515.75 315.4L516.00 312.6L516.25 314.5L516.50 313.6L516.75 314.1L517.00 313.1L517.25 314.2L517.50 313.5L517.75 314.4L518.00 314.8L518.25 313.2L518.50 313.0L518.75 314.7L519.00 315.1L519.25 314.0L519.50 312.7L519.75 313.0L520.00 314.6L520.25 315.1L520.50 314.0L520.75 313.3L521.00 314.8L521.25 313.3L521.50 313.7L521.75 313.8L522.00 313.8L522.25 314.6L522.50 313.6L522.75 314.4L523.00 315.0L523.25 315.0L523.50 315.2L523.75 314.1L524.00 313.3L524.25 314.5L524.50 314.6L524.75 314.6L525.00 314.2L525.25 314.8L525.50 313.9L525.75 315.0L526.00 315.6L526.25 314.7L526.50 314.6L526.75 315.0L527.00 315.0L527.25 315.0L527.50 314.8L527.75 314.5L528.00 315.7L528.25 314.0L528.50 315.5L528.75 314.3L529.00 315.1L529.25 314.3L529.50 313.9L529.75 314.3L530.00 314.3L530.25 315.7L530.50 314.6L530.75 314.5L531.00 314.4L531.25 315.0L531.50 315.0L531.75 315.4L532.00 314.6L532.25 314.4"/>
<path stroke-width="2.4" d="M50.00 385.1L50.50 385.3L51.00 385.2L51.50 384.8L52.00 384.9L52.50 385.1L53.00 384.9L53.50 384.7L54.00 385.1L54.50 384.9L55.00 385.1L55.50 385.2L56.00 384.9L56.50 384.7L57.00 384.8L57.50 385.1L58.00 385.0L58.50 385.1L59.00 384.8L59.50 385.1L60.00 384.8L60.50 384.7L61.00 384.9L61.50 384.8L62.00 384.8L62.50 384.8L63.00 385.0L63.50 384.6L64.00 384.4L64.50 384.9L65.00 385.2L65.50 385.0L66.00 384.4L66.50 384.8L67.00 384.9L67.50 384.9L68.00 385.1L68.50 384.8L69.00 384.0L69.50 384.7L70.00 384.4L70.50 384.4L71.00 384.2L71.50 384.3L72.00 384.4L72.50 384.7L73.00 384.7L73.50 384.6L74.00 384.7L74.50 384.3L75.00 384.2L75.50 384.8L76.00 384.5L76.50 384.3L77.00 384.5L77.50 384.1L78.00 384.6L78.50 384.0L79.00 384.1L79.50 384.2L80.00 384.2L80.50 383.9L81.00 384.4L81.50 384.3L82.00 384.1L82.50 384.2L83.00 384.0L83.50 384.3L84.00 383.9L84.50 383.8L85.00 383.9L85.50 383.9L86.00 384.0L86.50 384.0L87.00 384.2L87.50 383.5L88.00 383.4L88.50 383.8L89.00 384.0L89.50 384.0L90.00 383.7L90.50 383.6L91.00 383.6L91.50 384.0L92.00 383.5L92.50 383.6L93.00 383.2L93.50 383.7L94.00 383.4L94.50 383.4L95.00 383.3L95.50 383.3L96.00 383.9L96.50 383.4L97.00 383.4L97.50 383.0L98.00 382.8L98.50 382.6L99.00 382.9L99.50 383.0L100.00 383.0L100.50 382.5L101.00 382.9L101.50 382.6L102.00 382.8L102.50 382.4L103.00 382.4L103.50 382.1L104.00 382.0L104.50 382.0L105.00 382.0L105.50 381.9L106.00 381.5L106.50 381.2L107.00 381.4L107.50 381.5L108.00 381.0L108.50 380.8L109.00 380.7L109.50 380.7L110.00 380.7L110.50 380.2L111.00 380.3L111.50 380.4L112.00 380.1L112.50 379.6L113.00 379.3L113.50 379.5L114.00 379.6L114.50 379.3L115.00 379.3L115.50 378.7L116.00 378.7L116.50 378.3L117.00 378.4L117.50 378.1L118.00 377.8L118.50 377.7L119.00 377.7L119.50 377.6L120.00 377.4L120.50 377.5L121.00 377.0L121.50 376.4L122.00 376.7L122.50 376.0L123.00 375.7L123.50 375.9L124.00 375.4L124.50 375.3L125.00 374.9L125.50 374.7L126.00 374.1L126.50 374.4L127.00 374.2L127.50 373.6L128.00 373.6L128.50 373.2L129.00 372.9L129.50 372.7L130.00 371.7L130.50 371.8L131.00 371.2L131.50 371.0L132.00 370.3L132.50 370.4L133.00 369.8L133.50 369.0L134.00 368.6L134.50 368.0L135.00 367.5L135.50 367.1L136.00 366.1L136.50 365.5L137.00 365.4L137.50 364.6L138.00 363.7L138.50 363.0L139.00 362.1L139.50 361.6L140.00 360.5L140.50 360.1L141.00 359.3L141.50 358.3L142.00 357.8L142.50 356.8L143.00 355.7L143.50 354.6L144.00 353.6L144.50 352.5L145.00 351.2L145.50 350.4L146.00 349.4L146.50 347.6L147.00 346.8L147.50 345.5L148.00 344.5L148.50 343.6L149.00 342.6L149.50 341.3L150.00 340.7L150.50 339.6L151.00 338.4L151.50 338.7L152.00 337.7L152.50 336.9L153.00 336.7L153.50 335.9L154.00 335.1L154.40 334.8L154.50 334.9L155.00 335.4L155.50 335.5L156.00 336.6L156.50 337.0L157.00 337.8L157.50 338.8L158.00 340.0L158.50 340.1L159.00 341.3L159.50 341.8L160.00 342.7L160.50 344.0L161.00 345.3L161.50 346.2L162.00 347.4L162.50 348.8L163.00 349.8L163.50 350.8L164.00 352.0L164.50 353.4L165.00 354.9L165.50 356.2L166.00 357.7L166.50 359.0L167.00 360.2L167.50 361.1L168.00 362.1L168.50 363.5L169.00 364.1L169.50 364.9L170.00 365.4L170.50 366.0L171.00 366.8L171.50 367.2L172.00 368.3L172.50 368.7L173.00 369.6L173.50 369.9L174.00 371.2L174.50 371.4L175.00 372.1L175.50 372.4L176.00 372.8L176.50 373.6L177.00 373.5L177.50 374.5L178.00 374.5L178.50 375.1L179.00 375.1L179.50 375.6L180.00 375.9L180.50 376.4L181.00 376.3L181.50 376.9L182.00 377.1L182.50 377.5L183.00 377.4L183.50 377.9L184.00 378.0L184.50 378.3L185.00 378.9L185.50 379.2L186.00 378.9L186.50 379.3L187.00 379.5L187.50 379.5L188.00 379.7L188.50 379.8L189.00 380.3L189.50 380.1L190.00 380.8L190.50 380.1L191.00 380.8L191.50 381.0L192.00 380.8L192.50 380.7L193.00 381.2L193.50 381.0L194.00 381.6L194.50 381.5L195.00 381.6L195.50 381.7L196.00 381.9L196.50 381.8L197.00 382.0L197.50 382.1L198.00 382.0L198.50 382.4L199.00 382.6L199.50 382.6L200.00 382.4L200.50 382.6L201.00 382.3L201.50 382.5L202.00 382.5L202.50 382.7L203.00 383.1L203.50 382.8L204.00 382.9L204.50 382.8L205.00 383.0L205.50 382.9L206.00 383.5L206.50 383.3L207.00 383.7L207.50 383.8L208.00 383.7L208.50 383.7L209.00 383.7L209.50 383.7L210.00 383.4L210.50 383.9L211.00 383.8L211.50 383.8L212.00 384.0L212.50 384.1L213.00 384.3L213.50 384.0L214.00 384.0L214.50 384.6L215.00 384.5L215.50 384.6L216.00 384.4L216.50 384.2L217.00 384.9L217.50 384.9L218.00 384.5L218.50 384.8L219.00 385.0L219.50 385.3L220.00 385.1L220.50 385.0L221.00 384.9L221.50 384.9L222.00 385.0L222.50 384.9L223.00 385.2L223.50 385.1L224.00 385.1L224.50 385.0L225.00 385.3L225.50 385.2L226.00 385.4L226.50 385.1L227.00 385.5L227.50 385.4L228.00 385.8L228.50 385.3L229.00 385.9L229.50 386.2L230.00 385.5L230.50 386.0L231.00 385.9L231.50 385.4L232.00 385.5L232.50 385.9L233.00 385.8L233.50 385.9L234.00 385.9L234.50 386.1L235.00 385.8L235.50 385.6L236.00 385.7L236.50 385.9L237.00 385.7L237.50 385.9L238.00 385.9L238.50 385.9L239.00 386.0L239.50 385.9L240.00 386.2L240.50 386.1L241.00 386.2L241.50 385.8L242.00 386.1L242.50 386.0L243.00 385.7L243.50 386.6L244.00 385.9L244.50 386.4L245.00 386.4L245.50 386.5L246.00 386.1L246.50 385.7L247.00 386.4L247.50 386.2L248.00 386.4L248.50 386.3L249.00 386.6L249.50 386.4L250.00 386.3L250.50 386.9L251.00 386.2L251.50 385.9L252.00 386.4L252.50 386.5L253.00 386.5L253.50 386.3L254.00 386.4L254.50 386.3L255.00 386.4L255.50 386.6L256.00 386.4L256.50 386.7L257.00 386.5L257.50 386.6L258.00 386.5L258.50 386.8L259.00 386.6L259.50 386.4L260.00 386.6L260.50 386.9L261.00 386.7L261.50 386.4L262.00 386.5L262.50 386.4L263.00 387.0L263.50 386.7L264.00 386.9L264.50 386.9L265.00 386.6L265.50 387.0L266.00 386.7L266.50 386.8L267.00 386.3L267.50 386.7L268.00 386.7L268.50 386.6L269.00 386.8L269.50 386.5L270.00 386.7L270.50 386.3L271.00 386.8L271.50 386.7L272.00 387.2L272.50 386.9L273.00 387.0L273.50 386.2L274.00 386.8L274.50 386.6L275.00 387.2L275.50 387.1L276.00 386.9L276.50 386.9L277.00 386.9L277.50 386.9L278.00 387.0L278.50 387.0L279.00 386.9L279.50 386.7L280.00 387.3L280.50 386.8L281.00 386.7L281.50 387.4L282.00 386.9L282.50 386.9L283.00 386.6L283.50 386.7L284.00 387.2L284.50 386.8L285.00 387.1L285.50 386.7L286.00 387.1L286.50 386.9L287.00 386.8L287.50 386.5L288.00 387.2L288.50 386.9L289.00 386.9L289.50 387.1L290.00 386.7L290.50 387.2L291.00 387.1L291.50 387.0L292.00 387.0L292.50 386.7L293.00 386.8L293.50 387.0L294.00 386.8L294.50 387.2L295.00 387.0L295.50 387.2L296.00 386.5L296.50 387.2L297.00 386.7L297.50 386.7L298.00 386.8L298.50 387.1L299.00 386.9L299.50 386.9L300.00 387.0L300.50 387.1L301.00 387.1L301.50 387.0L302.00 386.9L302.50 386.9L303.00 386.5L303.50 386.8L304.00 386.3L304.50 386.8L305.00 386.8L305.50 386.6L306.00 386.6L306.50 387.0L307.00 386.7L307.50 386.7L308.00 387.2L308.50 386.8L309.00 386.9L309.50 386.8L310.00 386.8L310.50 387.0L311.00 386.7L311.50 386.9L312.00 386.6L312.50 386.6L313.00 386.8L313.50 386.5L314.00 386.1L314.50 386.6L315.00 386.9L315.50 386.4L316.00 386.7L316.50 386.5L317.00 386.3L317.50 386.5L318.00 386.1L318.50 386.8L319.00 386.5L319.50 386.6L320.00 386.5L320.50 386.2L321.00 386.4L321.50 386.7L322.00 386.7L322.50 386.4L323.00 386.3L323.50 386.4L324.00 386.1L324.50 386.5L325.00 386.0L325.50 386.2L326.00 386.6L326.50 386.4L327.00 386.2L327.50 386.4L328.00 386.3L328.50 386.4L329.00 386.5L329.50 386.3L330.00 385.9L330.50 386.4L331.00 386.1L331.50 386.5L332.00 386.5L332.50 386.2L333.00 386.3L333.50 385.9L334.00 385.9L334.50 386.2L335.00 386.3L335.50 386.5L336.00 386.1L336.50 386.0L337.00 386.0L337.50 386.0L338.00 386.2L338.50 385.9L339.00 386.4L339.50 385.9L340.00 386.7L340.50 386.2L341.00 386.2L341.50 385.9L342.00 386.3L342.50 385.8L343.00 386.4L343.50 386.1L344.00 386.3L344.50 386.4L345.00 386.5L345.50 386.6L346.00 386.5L346.50 386.5L347.00 386.2L347.50 386.1L348.00 386.5L348.50 386.4L349.00 386.3L349.50 386.4L350.00 386.6L350.50 386.6L351.00 386.3L351.50 386.2L352.00 386.0L352.50 386.4L353.00 386.4L353.50 386.2L354.00 386.8L354.50 386.9L355.00 386.4L355.50 386.7L356.00 386.6L356.50 386.7L357.00 386.7L357.50 386.6L358.00 386.9L358.50 386.8L359.00 386.6L359.50 386.8L360.00 386.6L360.50 386.7L361.00 386.9L361.50 386.8L362.00 386.4L362.50 386.9L363.00 386.5L363.50 386.8L364.00 387.0L364.50 386.5L365.00 386.6L365.50 387.0L366.00 386.9L366.50 386.4L367.00 387.1L367.50 386.8L368.00 386.7L368.50 387.0L369.00 386.8L369.50 387.0L370.00 387.0L370.50 387.5L371.00 387.2L371.50 387.1L372.00 387.1L372.50 387.1L373.00 387.2L373.50 386.9L374.00 387.2L374.50 386.9L375.00 387.0L375.50 387.1L376.00 387.3L376.50 387.3L377.00 386.5L377.50 387.4L378.00 387.2L378.50 387.2L379.00 387.5L379.50 387.0L380.00 387.0L380.50 386.8L381.00 387.0L381.50 387.4L382.00 387.1L382.50 387.0L383.00 387.3L383.50 387.0L384.00 387.1L384.50 387.1L385.00 387.4L385.50 387.1L386.00 387.2L386.50 387.3L387.00 386.9L387.50 387.3L388.00 386.9L388.50 387.1L389.00 387.2L389.50 387.4L390.00 387.3L390.50 387.6L391.00 387.4L391.50 387.5L392.00 387.3L392.50 387.3L393.00 387.8L393.50 387.1L394.00 387.7L394.50 387.3L395.00 387.6L395.50 387.2L396.00 387.6L396.50 387.5L397.00 387.0L397.50 387.3L398.00 387.6L398.50 387.7L399.00 387.6L399.50 387.4L400.00 387.5L400.50 387.2L401.00 387.3L401.50 387.6L402.00 387.5L402.50 387.7L403.00 387.6L403.50 387.7L404.00 387.5L404.50 387.7L405.00 388.1L405.50 387.3L406.00 387.6L406.50 387.5L407.00 387.7L407.50 387.7L408.00 387.4L408.50 387.6L409.00 387.6L409.50 387.6L410.00 387.7L410.50 387.9L411.00 387.7L411.50 387.6L412.00 387.7L412.50 388.0L413.00 387.5L413.50 387.9L414.00 387.5L414.50 387.3L415.00 387.5L415.50 387.7L416.00 387.6L416.50 387.5L417.00 387.5L417.50 387.4L418.00 387.4L418.50 387.5L419.00 387.1L419.50 387.7L420.00 387.7L420.50 387.7L421.00 387.8L421.50 387.5L422.00 387.7L422.50 387.1L423.00 387.7L423.50 387.6L424.00 387.8L424.50 387.8L425.00 387.6L425.50 387.4L426.00 387.7L426.50 387.8L427.00 387.9L427.50 387.6L428.00 387.5L428.50 387.6L429.00 387.4L429.50 387.2L430.00 387.8L430.50 387.8L431.00 387.8L431.50 387.5L432.00 387.7L432.50 387.4L433.00 387.4L433.50 387.8L434.00 387.3L434.50 387.6L435.00 388.2L435.50 387.9L436.00 387.8L436.50 387.8L437.00 387.6L437.50 387.6L438.00 388.1L438.50 387.6L439.00 387.6L439.50 387.8L440.00 387.7L440.50 388.0L441.00 387.6L441.50 387.5L442.00 387.6L442.50 388.0L443.00 387.9L443.50 387.8L444.00 387.7L444.50 387.8L445.00 387.5L445.50 387.8L446.00 387.6L446.50 387.8L447.00 387.7L447.50 387.8L448.00 387.6L448.50 387.9L449.00 387.8L449.50 387.6L450.00 387.8L450.50 387.7L451.00 387.8L451.50 387.9L452.00 387.6L452.50 387.7L453.00 387.7L453.50 387.7L454.00 388.2L454.50 387.8L455.00 387.5L455.50 387.8L456.00 387.6L456.50 388.3L457.00 387.6L457.50 387.5L458.00 387.9L458.50 387.6L459.00 387.7L459.50 387.7L460.00 387.6L460.50 387.7L461.00 387.3L461.50 387.7L462.00 387.9L462.50 388.2L463.00 387.8L463.50 388.0L464.00 387.6L464.50 388.1L465.00 388.3L465.50 387.9L466.00 387.7L466.50 387.8L467.00 388.1L467.50 387.5L468.00 388.1L468.50 387.6L469.00 387.6L469.50 387.9L470.00 387.9L470.50 388.0L471.00 388.1L471.50 387.6L472.00 387.8L472.50 388.0L473.00 387.9L473.50 388.1L474.00 387.8L474.50 387.8L475.00 387.4L475.50 387.4L476.00 388.0L476.50 387.6L477.00 387.9L477.50 388.0L478.00 387.8L478.50 388.1L479.00 387.7L479.50 388.0L480.00 387.9L480.50 387.6L481.00 387.5L481.50 387.9L482.00 388.3L482.50 388.2L483.00 388.0L483.50 388.1L484.00 388.1L484.50 387.9L485.00 388.2L485.50 388.0L486.00 387.8L486.50 388.8L487.00 388.1L487.50 387.9L488.00 388.1L488.50 387.7L489.00 387.7L489.50 388.4L490.00 388.1L490.50 387.8L491.00 387.7L491.50 388.0L492.00 387.8L492.50 388.3L493.00 387.6L493.50 388.3L494.00 387.8L494.50 387.8L495.00 388.1L495.50 387.8L496.00 388.0L496.50 388.0L497.00 387.6L497.50 387.8L498.00 388.2L498.50 387.7L499.00 387.8L499.50 387.9L500.00 388.3L500.50 388.4L501.00 388.5L501.50 388.0L502.00 388.4L502.50 388.2L503.00 387.9L503.50 388.3L504.00 388.2L504.50 388.1L505.00 388.0L505.50 387.9L506.00 388.4L506.50 388.4L507.00 388.2L507.50 388.2L508.00 388.2L508.50 388.5L509.00 388.4L509.50 387.9L510.00 388.3L510.50 388.4L511.00 388.2L511.50 388.3L512.00 388.2L512.50 388.5L513.00 388.3L513.50 388.4L514.00 388.4L514.50 388.8L515.00 388.1L515.50 389.0L516.00 388.2L516.50 388.4L517.00 388.3L517.50 388.5L518.00 388.6L518.50 389.0L519.00 388.8L519.50 388.4L520.00 388.6L520.50 388.6L521.00 388.4L521.50 388.7L522.00 388.6L522.50 388.5L523.00 388.4L523.50 388.8L524.00 388.6L524.50 388.9L525.00 388.8L525.50 388.4L526.00 388.2L526.50 388.7L527.00 388.5L527.50 388.5L528.00 388.5L528.50 389.0L529.00 388.7L529.50 389.2L530.00 388.9L530.50 388.4L531.00 388.9L531.50 389.1L532.00 388.4"/>
<path stroke-width="2.7" d="M132.50 370.4L133.00 369.8L133.50 369.0L134.00 368.6L134.50 368.0L135.00 367.5L135.50 367.1L136.00 366.1L136.50 365.5L137.00 365.4L137.50 364.6L138.00 363.7L138.50 363.0L139.00 362.1L139.50 361.6L140.00 360.5L140.50 360.1L141.00 359.3L141.50 358.3L142.00 357.8L142.50 356.8L143.00 355.7L143.50 354.6L144.00 353.6L144.50 352.5L145.00 351.2L145.50 350.4L146.00 349.4L146.50 347.6L147.00 346.8L147.50 345.5L148.00 344.5L148.50 343.6L149.00 342.6L149.50 341.3L150.00 340.7L150.50 339.6L151.00 338.4L151.50 338.7L152.00 337.7L152.50 336.9L153.00 336.7L153.50 335.9L154.00 335.1L154.40 334.8L154.50 334.9L155.00 335.4L155.50 335.5L156.00 336.6L156.50 337.0L157.00 337.8L157.50 338.8L158.00 340.0L158.50 340.1L159.00 341.3L159.50 341.8L160.00 342.7L160.50 344.0L161.00 345.3L161.50 346.2L162.00 347.4L162.50 348.8L163.00 349.8L163.50 350.8L164.00 352.0L164.50 353.4L165.00 354.9L165.50 356.2L166.00 357.7L166.50 359.0L167.00 360.2L167.50 361.1L168.00 362.1L168.50 363.5L169.00 364.1L169.50 364.9L170.00 365.4L170.50 366.0L171.00 366.8L171.50 367.2L172.00 368.3L172.50 368.7L173.00 369.6L173.50 369.9L174.00 371.2L174.50 371.4L175.00 372.1L175.50 372.4L176.00 372.8L176.50 373.6L177.00 373.5L177.50 374.5"/>
</g>
<g stroke="#000" fill="none">
<rect x="49.0" y="11.0" width="484.0" height="389.0" stroke-width="2"/>
<path d="M49.0 88.7H533.0" stroke-width="1.8"/>
<path d="M49.0 167.5H533.0" stroke-width="1.8"/>
<path d="M49.0 245.2H533.0" stroke-width="1.8"/>
<path d="M49.0 322.3H533.0" stroke-width="1.8"/>
<path d="M49.00 400.0V410.0M83.57 400.0V405.0M118.14 400.0V410.0M152.71 400.0V405.0M187.29 400.0V410.0M221.86 400.0V405.0M256.43 400.0V410.0M291.00 400.0V405.0M325.57 400.0V410.0M360.14 400.0V405.0M394.71 400.0V410.0M429.29 400.0V405.0M463.86 400.0V410.0M498.43 400.0V405.0M533.00 400.0V410.0" stroke-width="1.8"/>
</g>
<g font-family="Liberation Sans, Arial, sans-serif" font-size="20.5" text-anchor="end" fill="#000" stroke="#000" stroke-width="0.35">
<text x="523.6" y="39.4">LLO@2% rGO</text>
<text x="523.6" y="116.4">LLO@1% rGO</text>
<text x="523.6" y="195.9">LLO@0.5% rGO</text>
<text x="523.6" y="273.0">LLO</text>
<text x="523.6" y="350.8">rGO</text>
</g>
<g font-family="Liberation Sans, Arial, sans-serif" font-size="20" text-anchor="middle" fill="#000" stroke="#000" stroke-width="0.35">
<text x="48.9" y="432.0">10</text>
<text x="118.0" y="432.0">20</text>
<text x="187.2" y="432.0">30</text>
<text x="256.3" y="432.0">40</text>
<text x="325.5" y="432.0">50</text>
<text x="394.6" y="432.0">60</text>
<text x="463.8" y="432.0">70</text>
<text x="532.9" y="432.0">80</text>
</g>
<text x="290.3" y="459.6" font-family="Liberation Sans, Arial, sans-serif" font-weight="bold" font-size="25.8" letter-spacing="0.07" text-anchor="middle">2 Theta (degree)</text>
<text transform="translate(23.0 223.2) rotate(-90)" font-family="Liberation Sans, Arial, sans-serif" font-weight="bold" font-size="26" letter-spacing="0.4" text-anchor="middle">Intensity (a.u.)</text>
</svg>
</body></html>
